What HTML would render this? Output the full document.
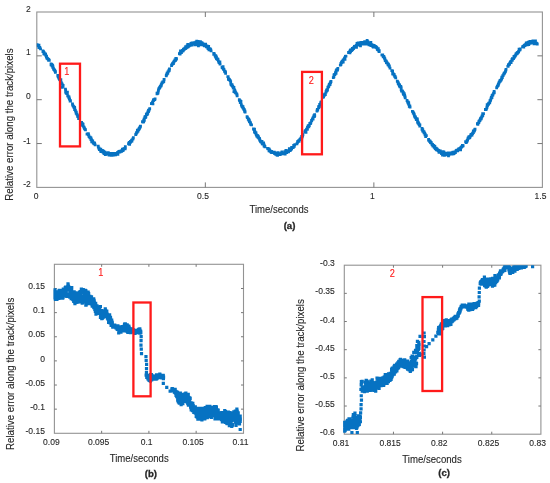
<!DOCTYPE html>
<html><head><meta charset="utf-8"><title>Figure</title>
<style>html,body{margin:0;padding:0;background:#fff;overflow:hidden;} svg{display:block;font-family:"Liberation Sans", Arial, sans-serif;}</style>
</head><body>
<svg width="550" height="483" viewBox="0 0 550 483">
<rect width="550" height="483" fill="#fff"/>
<defs><clipPath id="ca"><rect x="36.8" y="12.0" width="505.6" height="175.4"/></clipPath><clipPath id="cb"><rect x="53.4" y="264.3" width="190.1" height="169"/></clipPath><clipPath id="cc"><rect x="343.1" y="265.2" width="197.8" height="169"/></clipPath></defs>
<rect x="36.8" y="12" width="505.6" height="175.4" fill="none" stroke="#939393" stroke-width="1.1"/>
<line x1="205.33" y1="187.4" x2="205.33" y2="182.4" stroke="#777" stroke-width="1"/>
<line x1="205.33" y1="12" x2="205.33" y2="17" stroke="#777" stroke-width="1"/>
<line x1="373.87" y1="187.4" x2="373.87" y2="182.4" stroke="#777" stroke-width="1"/>
<line x1="373.87" y1="12" x2="373.87" y2="17" stroke="#777" stroke-width="1"/>
<line x1="36.8" y1="55.85" x2="41.8" y2="55.85" stroke="#777" stroke-width="1"/>
<line x1="542.4" y1="55.85" x2="537.4" y2="55.85" stroke="#777" stroke-width="1"/>
<line x1="36.8" y1="99.7" x2="41.8" y2="99.7" stroke="#777" stroke-width="1"/>
<line x1="542.4" y1="99.7" x2="537.4" y2="99.7" stroke="#777" stroke-width="1"/>
<line x1="36.8" y1="143.55" x2="41.8" y2="143.55" stroke="#777" stroke-width="1"/>
<line x1="542.4" y1="143.55" x2="537.4" y2="143.55" stroke="#777" stroke-width="1"/>
<path d="M35.42 43.29h2.8v2.8h-2.8zM35.46 43.82h2.8v2.8h-2.8zM35.8 43.37h2.8v2.8h-2.8zM36.34 43.88h2.8v2.8h-2.8zM36.8 44.39h2.8v2.8h-2.8zM37.1 44.38h2.8v2.8h-2.8zM37.6 43.81h2.8v2.8h-2.8zM37.5 46.3h2.8v2.8h-2.8zM37.85 46.13h2.8v2.8h-2.8zM38.45 46.49h2.8v2.8h-2.8zM38.44 46.09h2.8v2.8h-2.8zM39.14 47.48h2.8v2.8h-2.8zM41.52 49.44h2.8v2.8h-2.8zM41.52 50.09h2.8v2.8h-2.8zM42.14 50.25h2.8v2.8h-2.8zM42.62 51h2.8v2.8h-2.8zM42.45 52.19h2.8v2.8h-2.8zM42.71 52.62h2.8v2.8h-2.8zM43.55 52.24h2.8v2.8h-2.8zM43.77 52.36h2.8v2.8h-2.8zM44.18 53.05h2.8v2.8h-2.8zM44.29 53.73h2.8v2.8h-2.8zM44.73 54.52h2.8v2.8h-2.8zM45.16 54.94h2.8v2.8h-2.8zM45.01 55.49h2.8v2.8h-2.8zM45.43 56.64h2.8v2.8h-2.8zM45.74 56.75h2.8v2.8h-2.8zM46.22 57.25h2.8v2.8h-2.8zM46.65 57.79h2.8v2.8h-2.8zM47.14 57.98h2.8v2.8h-2.8zM47.2 58.96h2.8v2.8h-2.8zM47.88 58.86h2.8v2.8h-2.8zM49.64 62.46h2.8v2.8h-2.8zM49.62 63.36h2.8v2.8h-2.8zM50.52 63.06h2.8v2.8h-2.8zM50.59 64.34h2.8v2.8h-2.8zM51.15 64.03h2.8v2.8h-2.8zM51.46 64.65h2.8v2.8h-2.8zM51.33 65.93h2.8v2.8h-2.8zM51.64 65.82h2.8v2.8h-2.8zM52.13 67.26h2.8v2.8h-2.8zM52.26 67.65h2.8v2.8h-2.8zM52.61 68.22h2.8v2.8h-2.8zM53.29 68.87h2.8v2.8h-2.8zM53.47 69.5h2.8v2.8h-2.8zM54.09 70.17h2.8v2.8h-2.8zM53.96 71.04h2.8v2.8h-2.8zM56.39 74.02h2.8v2.8h-2.8zM56.54 74.72h2.8v2.8h-2.8zM56.88 75.37h2.8v2.8h-2.8zM57.4 76.55h2.8v2.8h-2.8zM57.37 76.62h2.8v2.8h-2.8zM57.86 76.91h2.8v2.8h-2.8zM58.07 78h2.8v2.8h-2.8zM58.71 78.55h2.8v2.8h-2.8zM59.02 80h2.8v2.8h-2.8zM59.07 79.62h2.8v2.8h-2.8zM59.47 78.25h2.8v2.8h-2.8zM60.01 81.17h2.8v2.8h-2.8zM60.06 82.25h2.8v2.8h-2.8zM60.46 82.41h2.8v2.8h-2.8zM60.8 82.79h2.8v2.8h-2.8zM60.89 85.86h2.8v2.8h-2.8zM61.72 84.05h2.8v2.8h-2.8zM61.61 84.95h2.8v2.8h-2.8zM64.06 87.78h2.8v2.8h-2.8zM64.24 88.9h2.8v2.8h-2.8zM64.22 90.34h2.8v2.8h-2.8zM64.56 91.35h2.8v2.8h-2.8zM65.39 92.29h2.8v2.8h-2.8zM65.21 91.7h2.8v2.8h-2.8zM66.02 90.8h2.8v2.8h-2.8zM65.92 92.3h2.8v2.8h-2.8zM66.3 94.43h2.8v2.8h-2.8zM66.7 94.69h2.8v2.8h-2.8zM67.33 96.05h2.8v2.8h-2.8zM67.65 95.62h2.8v2.8h-2.8zM67.99 97.14h2.8v2.8h-2.8zM67.78 96.65h2.8v2.8h-2.8zM68.21 97.99h2.8v2.8h-2.8zM68.71 99.65h2.8v2.8h-2.8zM69.09 99.37h2.8v2.8h-2.8zM71.08 102.46h2.8v2.8h-2.8zM71.24 103.71h2.8v2.8h-2.8zM71.86 104.8h2.8v2.8h-2.8zM72 104.73h2.8v2.8h-2.8zM72.48 105.55h2.8v2.8h-2.8zM72.71 106.29h2.8v2.8h-2.8zM73.25 106.08h2.8v2.8h-2.8zM73.21 108.22h2.8v2.8h-2.8zM73.46 107.48h2.8v2.8h-2.8zM73.98 108.89h2.8v2.8h-2.8zM74.44 110.4h2.8v2.8h-2.8zM74.91 110.87h2.8v2.8h-2.8zM74.79 111.85h2.8v2.8h-2.8zM75.61 112.73h2.8v2.8h-2.8zM75.65 112.92h2.8v2.8h-2.8zM76.19 114.65h2.8v2.8h-2.8zM76.22 114.28h2.8v2.8h-2.8zM76.54 115.11h2.8v2.8h-2.8zM76.94 115.25h2.8v2.8h-2.8zM77.19 117.22h2.8v2.8h-2.8zM77.48 116.81h2.8v2.8h-2.8zM80.19 120.91h2.8v2.8h-2.8zM80.49 121.98h2.8v2.8h-2.8zM80.88 123.05h2.8v2.8h-2.8zM80.94 122.26h2.8v2.8h-2.8zM81.14 123.82h2.8v2.8h-2.8zM81.46 124.15h2.8v2.8h-2.8zM81.68 122.68h2.8v2.8h-2.8zM82.23 125.38h2.8v2.8h-2.8zM82.62 125.68h2.8v2.8h-2.8zM82.94 126.83h2.8v2.8h-2.8zM83.02 126.83h2.8v2.8h-2.8zM83.47 127.7h2.8v2.8h-2.8zM84.07 128.34h2.8v2.8h-2.8zM85.6 132.82h2.8v2.8h-2.8zM86.51 132.57h2.8v2.8h-2.8zM86.64 132.25h2.8v2.8h-2.8zM86.97 133.16h2.8v2.8h-2.8zM87.09 132.62h2.8v2.8h-2.8zM87.38 133.93h2.8v2.8h-2.8zM87.65 135.14h2.8v2.8h-2.8zM88.49 136.37h2.8v2.8h-2.8zM88.76 135.85h2.8v2.8h-2.8zM88.59 136.23h2.8v2.8h-2.8zM89.47 136.53h2.8v2.8h-2.8zM89.64 136.83h2.8v2.8h-2.8zM89.55 138.12h2.8v2.8h-2.8zM90.08 138.36h2.8v2.8h-2.8zM90.32 140.4h2.8v2.8h-2.8zM90.59 139.16h2.8v2.8h-2.8zM91.34 139.52h2.8v2.8h-2.8zM91.69 140.91h2.8v2.8h-2.8zM91.71 141.02h2.8v2.8h-2.8zM91.91 141.59h2.8v2.8h-2.8zM92.73 142.49h2.8v2.8h-2.8zM92.88 141.59h2.8v2.8h-2.8zM93.02 142.38h2.8v2.8h-2.8zM93.27 141.84h2.8v2.8h-2.8zM93.77 143.51h2.8v2.8h-2.8zM96.93 145.66h2.8v2.8h-2.8zM96.84 144.78h2.8v2.8h-2.8zM97.72 146.66h2.8v2.8h-2.8zM97.48 146.96h2.8v2.8h-2.8zM97.95 148.15h2.8v2.8h-2.8zM98.67 147.79h2.8v2.8h-2.8zM98.91 148.35h2.8v2.8h-2.8zM99.24 149h2.8v2.8h-2.8zM99.4 147.73h2.8v2.8h-2.8zM99.48 150.32h2.8v2.8h-2.8zM100.14 150h2.8v2.8h-2.8zM100.19 149.02h2.8v2.8h-2.8zM101.02 149.01h2.8v2.8h-2.8zM100.94 150.22h2.8v2.8h-2.8zM101.7 151.04h2.8v2.8h-2.8zM101.6 150.38h2.8v2.8h-2.8zM102.36 150.96h2.8v2.8h-2.8zM102.13 149.7h2.8v2.8h-2.8zM102.58 152.1h2.8v2.8h-2.8zM102.82 150.43h2.8v2.8h-2.8zM103.61 150.79h2.8v2.8h-2.8zM103.65 152.54h2.8v2.8h-2.8zM103.97 153.25h2.8v2.8h-2.8zM104.31 151.53h2.8v2.8h-2.8zM104.41 152.58h2.8v2.8h-2.8zM105.25 152.12h2.8v2.8h-2.8zM105.51 152.52h2.8v2.8h-2.8zM105.77 152.3h2.8v2.8h-2.8zM105.98 152.7h2.8v2.8h-2.8zM106.07 152.75h2.8v2.8h-2.8zM106.91 151.21h2.8v2.8h-2.8zM106.96 152.8h2.8v2.8h-2.8zM107.56 153.1h2.8v2.8h-2.8zM107.62 153.73h2.8v2.8h-2.8zM108.14 152.32h2.8v2.8h-2.8zM108.43 152.4h2.8v2.8h-2.8zM108.41 153.32h2.8v2.8h-2.8zM108.89 153.41h2.8v2.8h-2.8zM109.35 151.98h2.8v2.8h-2.8zM109.57 153.54h2.8v2.8h-2.8zM109.69 154.05h2.8v2.8h-2.8zM110.17 151.93h2.8v2.8h-2.8zM110.68 153.99h2.8v2.8h-2.8zM111.18 152.57h2.8v2.8h-2.8zM111.23 151.98h2.8v2.8h-2.8zM111.91 152.25h2.8v2.8h-2.8zM112.12 153.19h2.8v2.8h-2.8zM112.55 153.79h2.8v2.8h-2.8zM112.6 152.58h2.8v2.8h-2.8zM113.23 152.83h2.8v2.8h-2.8zM113.4 152.06h2.8v2.8h-2.8zM113.31 152.82h2.8v2.8h-2.8zM113.66 152.25h2.8v2.8h-2.8zM114.23 153.45h2.8v2.8h-2.8zM114.48 152h2.8v2.8h-2.8zM114.63 152.36h2.8v2.8h-2.8zM115.13 152.58h2.8v2.8h-2.8zM115.62 152.2h2.8v2.8h-2.8zM116.01 151.29h2.8v2.8h-2.8zM116 152.15h2.8v2.8h-2.8zM116.5 152.91h2.8v2.8h-2.8zM116.85 150.92h2.8v2.8h-2.8zM117.45 150.06h2.8v2.8h-2.8zM117.39 150.5h2.8v2.8h-2.8zM118.13 150.81h2.8v2.8h-2.8zM118.22 149.92h2.8v2.8h-2.8zM118.62 149.75h2.8v2.8h-2.8zM118.84 150.35h2.8v2.8h-2.8zM119.19 150.05h2.8v2.8h-2.8zM119.35 149.65h2.8v2.8h-2.8zM119.89 149.86h2.8v2.8h-2.8zM120.5 148.93h2.8v2.8h-2.8zM120.29 150.05h2.8v2.8h-2.8zM121.03 147.68h2.8v2.8h-2.8zM121.09 149.22h2.8v2.8h-2.8zM121.55 149.16h2.8v2.8h-2.8zM122 148.56h2.8v2.8h-2.8zM122.13 147.48h2.8v2.8h-2.8zM122.7 147.17h2.8v2.8h-2.8zM122.77 147.29h2.8v2.8h-2.8zM123.45 147.12h2.8v2.8h-2.8zM123.76 147.54h2.8v2.8h-2.8zM123.97 146.56h2.8v2.8h-2.8zM123.91 145.16h2.8v2.8h-2.8zM127.12 142.27h2.8v2.8h-2.8zM127.66 142.61h2.8v2.8h-2.8zM127.8 141.1h2.8v2.8h-2.8zM128.25 142.93h2.8v2.8h-2.8zM128.3 141.32h2.8v2.8h-2.8zM128.85 141.24h2.8v2.8h-2.8zM129.06 139.96h2.8v2.8h-2.8zM129.44 140.3h2.8v2.8h-2.8zM129.58 140.04h2.8v2.8h-2.8zM130.18 138.9h2.8v2.8h-2.8zM130.39 138.8h2.8v2.8h-2.8zM130.55 139.7h2.8v2.8h-2.8zM131.33 137.67h2.8v2.8h-2.8zM131.59 137.38h2.8v2.8h-2.8zM131.64 137.52h2.8v2.8h-2.8zM131.95 136.29h2.8v2.8h-2.8zM134.27 133.29h2.8v2.8h-2.8zM134.58 132.64h2.8v2.8h-2.8zM135.08 131.62h2.8v2.8h-2.8zM135.11 131.13h2.8v2.8h-2.8zM135.97 128.86h2.8v2.8h-2.8zM135.86 130.64h2.8v2.8h-2.8zM136.43 129.77h2.8v2.8h-2.8zM136.68 129.58h2.8v2.8h-2.8zM137.21 128.31h2.8v2.8h-2.8zM137.44 128.22h2.8v2.8h-2.8zM137.62 127.32h2.8v2.8h-2.8zM138.09 127.07h2.8v2.8h-2.8zM138.18 126.55h2.8v2.8h-2.8zM138.5 126.17h2.8v2.8h-2.8zM138.84 125.13h2.8v2.8h-2.8zM139.11 124.7h2.8v2.8h-2.8zM141.08 120.23h2.8v2.8h-2.8zM141.53 120.71h2.8v2.8h-2.8zM142.26 120.38h2.8v2.8h-2.8zM142.27 118.76h2.8v2.8h-2.8zM142.95 119.07h2.8v2.8h-2.8zM142.8 117.54h2.8v2.8h-2.8zM143.5 116.09h2.8v2.8h-2.8zM143.44 115.57h2.8v2.8h-2.8zM144.22 115h2.8v2.8h-2.8zM144.3 115.89h2.8v2.8h-2.8zM144.5 115h2.8v2.8h-2.8zM144.95 112.71h2.8v2.8h-2.8zM145.57 113.14h2.8v2.8h-2.8zM145.91 112.75h2.8v2.8h-2.8zM145.68 112.27h2.8v2.8h-2.8zM146.35 111.83h2.8v2.8h-2.8zM146.41 110.45h2.8v2.8h-2.8zM147.15 110.12h2.8v2.8h-2.8zM147.08 108.99h2.8v2.8h-2.8zM147.53 108.82h2.8v2.8h-2.8zM147.78 108.59h2.8v2.8h-2.8zM148.3 107.2h2.8v2.8h-2.8zM150.01 102.2h2.8v2.8h-2.8zM150.45 102.12h2.8v2.8h-2.8zM150.95 101.6h2.8v2.8h-2.8zM151.19 100.61h2.8v2.8h-2.8zM151.53 102.39h2.8v2.8h-2.8zM152.08 99.23h2.8v2.8h-2.8zM151.96 98.61h2.8v2.8h-2.8zM152.55 98.29h2.8v2.8h-2.8zM152.6 98.35h2.8v2.8h-2.8zM153.34 98.11h2.8v2.8h-2.8zM153.69 97.49h2.8v2.8h-2.8zM155.59 92.54h2.8v2.8h-2.8zM155.62 91.72h2.8v2.8h-2.8zM156.37 91.94h2.8v2.8h-2.8zM156.62 91.33h2.8v2.8h-2.8zM156.91 89.74h2.8v2.8h-2.8zM157.06 88.76h2.8v2.8h-2.8zM157.35 87.56h2.8v2.8h-2.8zM157.82 87.01h2.8v2.8h-2.8zM158.08 86.49h2.8v2.8h-2.8zM158.43 86.04h2.8v2.8h-2.8zM158.75 85.5h2.8v2.8h-2.8zM159.01 84.78h2.8v2.8h-2.8zM159.76 84.47h2.8v2.8h-2.8zM159.82 83.62h2.8v2.8h-2.8zM160.16 82.69h2.8v2.8h-2.8zM160.61 81.39h2.8v2.8h-2.8zM160.59 81.45h2.8v2.8h-2.8zM160.88 81.55h2.8v2.8h-2.8zM161.34 80.6h2.8v2.8h-2.8zM161.68 80.61h2.8v2.8h-2.8zM162.36 80.29h2.8v2.8h-2.8zM162.6 78.33h2.8v2.8h-2.8zM162.73 78h2.8v2.8h-2.8zM164.83 74.57h2.8v2.8h-2.8zM164.97 73.68h2.8v2.8h-2.8zM165.44 72.93h2.8v2.8h-2.8zM165.67 71.87h2.8v2.8h-2.8zM165.88 71.9h2.8v2.8h-2.8zM166.38 72.03h2.8v2.8h-2.8zM166.53 70.53h2.8v2.8h-2.8zM167.35 69.62h2.8v2.8h-2.8zM167.59 68.87h2.8v2.8h-2.8zM167.79 69.23h2.8v2.8h-2.8zM168.06 67.6h2.8v2.8h-2.8zM168.11 67.49h2.8v2.8h-2.8zM170.13 64.08h2.8v2.8h-2.8zM170.65 62.91h2.8v2.8h-2.8zM171.12 62.45h2.8v2.8h-2.8zM171.37 62.09h2.8v2.8h-2.8zM171.77 61.44h2.8v2.8h-2.8zM172.04 62.25h2.8v2.8h-2.8zM172.31 60.81h2.8v2.8h-2.8zM172.49 60.51h2.8v2.8h-2.8zM172.87 59.69h2.8v2.8h-2.8zM173.6 59.12h2.8v2.8h-2.8zM173.53 58.57h2.8v2.8h-2.8zM174.11 59.04h2.8v2.8h-2.8zM174.61 58.06h2.8v2.8h-2.8zM174.41 56.97h2.8v2.8h-2.8zM174.79 58.06h2.8v2.8h-2.8zM175.12 57.24h2.8v2.8h-2.8zM178.02 52.24h2.8v2.8h-2.8zM178.58 51.64h2.8v2.8h-2.8zM178.64 52.76h2.8v2.8h-2.8zM179.08 49.61h2.8v2.8h-2.8zM179.16 51.35h2.8v2.8h-2.8zM179.86 51.03h2.8v2.8h-2.8zM179.66 51.22h2.8v2.8h-2.8zM180.06 51.1h2.8v2.8h-2.8zM180.69 49.43h2.8v2.8h-2.8zM181.14 49.6h2.8v2.8h-2.8zM181.08 49.11h2.8v2.8h-2.8zM181.82 49.37h2.8v2.8h-2.8zM182.05 48.2h2.8v2.8h-2.8zM181.97 47.75h2.8v2.8h-2.8zM182.83 48.04h2.8v2.8h-2.8zM182.99 47.46h2.8v2.8h-2.8zM183.42 46.9h2.8v2.8h-2.8zM183.48 46.71h2.8v2.8h-2.8zM184.06 47.11h2.8v2.8h-2.8zM184.1 46.4h2.8v2.8h-2.8zM184.28 45.2h2.8v2.8h-2.8zM184.93 46.35h2.8v2.8h-2.8zM185.26 45.94h2.8v2.8h-2.8zM185.7 44.56h2.8v2.8h-2.8zM185.64 45.36h2.8v2.8h-2.8zM186.48 45.6h2.8v2.8h-2.8zM186.34 43.04h2.8v2.8h-2.8zM187.13 44.84h2.8v2.8h-2.8zM187.49 43.99h2.8v2.8h-2.8zM187.79 44.47h2.8v2.8h-2.8zM187.81 44.17h2.8v2.8h-2.8zM188.22 43.19h2.8v2.8h-2.8zM188.6 43.87h2.8v2.8h-2.8zM188.91 43.95h2.8v2.8h-2.8zM189.19 43.81h2.8v2.8h-2.8zM189.49 42.06h2.8v2.8h-2.8zM189.68 43.11h2.8v2.8h-2.8zM190.03 41.94h2.8v2.8h-2.8zM190.57 41.62h2.8v2.8h-2.8zM190.74 43.66h2.8v2.8h-2.8zM191.02 42.12h2.8v2.8h-2.8zM191.31 42.69h2.8v2.8h-2.8zM191.7 42.11h2.8v2.8h-2.8zM192.02 41.98h2.8v2.8h-2.8zM192.19 42.35h2.8v2.8h-2.8zM192.69 41.34h2.8v2.8h-2.8zM193.28 42.05h2.8v2.8h-2.8zM193.52 41.85h2.8v2.8h-2.8zM193.9 43.39h2.8v2.8h-2.8zM193.97 42.57h2.8v2.8h-2.8zM194.42 40.78h2.8v2.8h-2.8zM194.73 41.05h2.8v2.8h-2.8zM195.33 39.81h2.8v2.8h-2.8zM195.55 43.36h2.8v2.8h-2.8zM195.68 41.82h2.8v2.8h-2.8zM195.96 42.56h2.8v2.8h-2.8zM196.71 39.96h2.8v2.8h-2.8zM196.59 40.68h2.8v2.8h-2.8zM197.05 44.46h2.8v2.8h-2.8zM197.59 42.05h2.8v2.8h-2.8zM197.67 43.02h2.8v2.8h-2.8zM198.17 43.44h2.8v2.8h-2.8zM198.19 42.73h2.8v2.8h-2.8zM199.05 40.34h2.8v2.8h-2.8zM198.88 43.23h2.8v2.8h-2.8zM199.5 43.45h2.8v2.8h-2.8zM199.53 42.84h2.8v2.8h-2.8zM200.37 43.03h2.8v2.8h-2.8zM200.57 41.27h2.8v2.8h-2.8zM200.84 42.71h2.8v2.8h-2.8zM201.05 42.19h2.8v2.8h-2.8zM201.28 43.08h2.8v2.8h-2.8zM201.47 42.35h2.8v2.8h-2.8zM201.8 43.53h2.8v2.8h-2.8zM202.65 43.84h2.8v2.8h-2.8zM202.54 42.98h2.8v2.8h-2.8zM203.1 44.46h2.8v2.8h-2.8zM203.54 44.15h2.8v2.8h-2.8zM203.72 43.73h2.8v2.8h-2.8zM204.27 43.58h2.8v2.8h-2.8zM204.24 42.81h2.8v2.8h-2.8zM204.79 44.79h2.8v2.8h-2.8zM204.97 45.22h2.8v2.8h-2.8zM205.59 44.39h2.8v2.8h-2.8zM205.48 45.58h2.8v2.8h-2.8zM206.13 45.67h2.8v2.8h-2.8zM206.32 45.61h2.8v2.8h-2.8zM206.59 47.15h2.8v2.8h-2.8zM207.26 44.98h2.8v2.8h-2.8zM207.57 47.52h2.8v2.8h-2.8zM207.56 48.54h2.8v2.8h-2.8zM208.01 47.78h2.8v2.8h-2.8zM208.15 47.34h2.8v2.8h-2.8zM208.85 47.54h2.8v2.8h-2.8zM209.18 48.63h2.8v2.8h-2.8zM209.31 48.21h2.8v2.8h-2.8zM209.73 49.47h2.8v2.8h-2.8zM212.36 52.03h2.8v2.8h-2.8zM212.33 53.07h2.8v2.8h-2.8zM212.67 52.89h2.8v2.8h-2.8zM212.97 52.4h2.8v2.8h-2.8zM213.69 54.43h2.8v2.8h-2.8zM214.18 55.59h2.8v2.8h-2.8zM214.38 54.32h2.8v2.8h-2.8zM214.7 54.88h2.8v2.8h-2.8zM215.08 56.05h2.8v2.8h-2.8zM215.06 57.14h2.8v2.8h-2.8zM215.67 57.76h2.8v2.8h-2.8zM216.1 57.56h2.8v2.8h-2.8zM216.12 58.01h2.8v2.8h-2.8zM216.46 57.67h2.8v2.8h-2.8zM216.63 58.17h2.8v2.8h-2.8zM216.95 59.74h2.8v2.8h-2.8zM217.81 60.67h2.8v2.8h-2.8zM217.6 61.16h2.8v2.8h-2.8zM218.51 60.46h2.8v2.8h-2.8zM218.5 62.05h2.8v2.8h-2.8zM218.67 62.75h2.8v2.8h-2.8zM220.63 66.01h2.8v2.8h-2.8zM220.97 66.36h2.8v2.8h-2.8zM221.67 65.31h2.8v2.8h-2.8zM221.97 67.77h2.8v2.8h-2.8zM222.34 67.66h2.8v2.8h-2.8zM222.61 68.32h2.8v2.8h-2.8zM223.09 69.79h2.8v2.8h-2.8zM223.4 69.85h2.8v2.8h-2.8zM223.57 70.37h2.8v2.8h-2.8zM224.1 70.57h2.8v2.8h-2.8zM224.23 71.86h2.8v2.8h-2.8zM226.42 75.21h2.8v2.8h-2.8zM226.74 75.31h2.8v2.8h-2.8zM226.97 77.06h2.8v2.8h-2.8zM226.99 78.04h2.8v2.8h-2.8zM227.53 77.84h2.8v2.8h-2.8zM227.97 77.96h2.8v2.8h-2.8zM227.83 78.2h2.8v2.8h-2.8zM228.65 79.09h2.8v2.8h-2.8zM228.71 79.08h2.8v2.8h-2.8zM229.27 80.26h2.8v2.8h-2.8zM229.33 81.72h2.8v2.8h-2.8zM229.56 82.91h2.8v2.8h-2.8zM229.97 83.78h2.8v2.8h-2.8zM230.66 83.16h2.8v2.8h-2.8zM230.94 84.57h2.8v2.8h-2.8zM231.26 84.9h2.8v2.8h-2.8zM231.41 84.88h2.8v2.8h-2.8zM231.92 86.22h2.8v2.8h-2.8zM231.81 86.6h2.8v2.8h-2.8zM232.54 85.99h2.8v2.8h-2.8zM232.49 90.21h2.8v2.8h-2.8zM233.23 88.52h2.8v2.8h-2.8zM233.63 89.59h2.8v2.8h-2.8zM233.72 90.9h2.8v2.8h-2.8zM233.87 90.54h2.8v2.8h-2.8zM234.31 91.32h2.8v2.8h-2.8zM234.51 91.66h2.8v2.8h-2.8zM235.35 92.62h2.8v2.8h-2.8zM235.55 93.33h2.8v2.8h-2.8zM235.77 94.37h2.8v2.8h-2.8zM237.91 98.37h2.8v2.8h-2.8zM238.06 98.93h2.8v2.8h-2.8zM238.62 99.52h2.8v2.8h-2.8zM238.87 101.22h2.8v2.8h-2.8zM238.94 99.57h2.8v2.8h-2.8zM239.56 100.09h2.8v2.8h-2.8zM239.41 101.03h2.8v2.8h-2.8zM239.94 103.35h2.8v2.8h-2.8zM240.37 104.71h2.8v2.8h-2.8zM240.93 105.33h2.8v2.8h-2.8zM240.79 104.8h2.8v2.8h-2.8zM241.62 105.27h2.8v2.8h-2.8zM241.56 106.47h2.8v2.8h-2.8zM242.22 107.28h2.8v2.8h-2.8zM242.44 107.9h2.8v2.8h-2.8zM242.93 108.35h2.8v2.8h-2.8zM243.23 109.47h2.8v2.8h-2.8zM243.18 109.98h2.8v2.8h-2.8zM243.52 109.78h2.8v2.8h-2.8zM243.73 110.74h2.8v2.8h-2.8zM245.65 115.34h2.8v2.8h-2.8zM246.09 116.3h2.8v2.8h-2.8zM246.86 117.89h2.8v2.8h-2.8zM247.16 117.62h2.8v2.8h-2.8zM247.52 118.38h2.8v2.8h-2.8zM247.67 119.13h2.8v2.8h-2.8zM247.91 118.85h2.8v2.8h-2.8zM248.04 120.13h2.8v2.8h-2.8zM248.61 120.68h2.8v2.8h-2.8zM249.13 121.48h2.8v2.8h-2.8zM249.1 121.89h2.8v2.8h-2.8zM249.47 123.16h2.8v2.8h-2.8zM250.14 123.55h2.8v2.8h-2.8zM252.12 127.57h2.8v2.8h-2.8zM252.08 127.44h2.8v2.8h-2.8zM252.36 127.9h2.8v2.8h-2.8zM253.13 127.73h2.8v2.8h-2.8zM253.07 130.71h2.8v2.8h-2.8zM253.41 130.18h2.8v2.8h-2.8zM253.57 130.5h2.8v2.8h-2.8zM253.89 131.38h2.8v2.8h-2.8zM254.54 131.31h2.8v2.8h-2.8zM254.68 132.58h2.8v2.8h-2.8zM254.96 133.46h2.8v2.8h-2.8zM255.33 133.88h2.8v2.8h-2.8zM255.59 134.89h2.8v2.8h-2.8zM255.99 134.08h2.8v2.8h-2.8zM256.62 134.71h2.8v2.8h-2.8zM256.57 135.93h2.8v2.8h-2.8zM257.1 135.51h2.8v2.8h-2.8zM257.39 136.67h2.8v2.8h-2.8zM258.04 137.03h2.8v2.8h-2.8zM258.14 137.62h2.8v2.8h-2.8zM258.34 138.22h2.8v2.8h-2.8zM258.61 139.12h2.8v2.8h-2.8zM259.2 140.15h2.8v2.8h-2.8zM259.48 140.34h2.8v2.8h-2.8zM259.93 140.16h2.8v2.8h-2.8zM260.26 141.05h2.8v2.8h-2.8zM260.61 140.04h2.8v2.8h-2.8zM260.79 142.53h2.8v2.8h-2.8zM261.14 142.35h2.8v2.8h-2.8zM261.28 142.24h2.8v2.8h-2.8zM261.54 142.74h2.8v2.8h-2.8zM262.25 141.43h2.8v2.8h-2.8zM262.64 144.59h2.8v2.8h-2.8zM262.74 143.57h2.8v2.8h-2.8zM262.86 143.88h2.8v2.8h-2.8zM263.48 144.91h2.8v2.8h-2.8zM263.53 145.47h2.8v2.8h-2.8zM266.17 146.94h2.8v2.8h-2.8zM266.67 147.53h2.8v2.8h-2.8zM266.79 147.3h2.8v2.8h-2.8zM266.79 147.48h2.8v2.8h-2.8zM267.6 147.48h2.8v2.8h-2.8zM267.61 149.42h2.8v2.8h-2.8zM268.16 148.42h2.8v2.8h-2.8zM268.48 148.97h2.8v2.8h-2.8zM268.53 149.75h2.8v2.8h-2.8zM268.99 149.91h2.8v2.8h-2.8zM269.66 150.59h2.8v2.8h-2.8zM269.92 150.03h2.8v2.8h-2.8zM270.21 151.09h2.8v2.8h-2.8zM270.13 149.93h2.8v2.8h-2.8zM270.6 150.61h2.8v2.8h-2.8zM271.3 150.97h2.8v2.8h-2.8zM271.61 151.17h2.8v2.8h-2.8zM271.91 150.89h2.8v2.8h-2.8zM272.15 150.68h2.8v2.8h-2.8zM272.46 151.06h2.8v2.8h-2.8zM272.91 150.73h2.8v2.8h-2.8zM273.19 152.23h2.8v2.8h-2.8zM273.61 151.44h2.8v2.8h-2.8zM273.46 152.24h2.8v2.8h-2.8zM274.22 151.56h2.8v2.8h-2.8zM274.03 152.61h2.8v2.8h-2.8zM274.66 151.44h2.8v2.8h-2.8zM275.14 151.63h2.8v2.8h-2.8zM275.26 153.43h2.8v2.8h-2.8zM275.46 152.13h2.8v2.8h-2.8zM276.18 151.99h2.8v2.8h-2.8zM276.16 153.93h2.8v2.8h-2.8zM276.39 151.4h2.8v2.8h-2.8zM276.73 151.32h2.8v2.8h-2.8zM277.16 152.86h2.8v2.8h-2.8zM277.83 152.33h2.8v2.8h-2.8zM277.97 152.15h2.8v2.8h-2.8zM277.98 153.14h2.8v2.8h-2.8zM278.63 153.17h2.8v2.8h-2.8zM278.87 152.23h2.8v2.8h-2.8zM279.33 152.59h2.8v2.8h-2.8zM279.88 151.53h2.8v2.8h-2.8zM280.17 152.34h2.8v2.8h-2.8zM280.15 152.05h2.8v2.8h-2.8zM280.55 150.61h2.8v2.8h-2.8zM281.03 152.55h2.8v2.8h-2.8zM281.2 152.18h2.8v2.8h-2.8zM281.84 151.81h2.8v2.8h-2.8zM282.07 152.01h2.8v2.8h-2.8zM282.35 152.35h2.8v2.8h-2.8zM282.32 152.1h2.8v2.8h-2.8zM282.99 151.76h2.8v2.8h-2.8zM283.51 150.25h2.8v2.8h-2.8zM283.75 152.58h2.8v2.8h-2.8zM283.93 151.57h2.8v2.8h-2.8zM284.3 150.34h2.8v2.8h-2.8zM284.49 148.89h2.8v2.8h-2.8zM284.88 149.24h2.8v2.8h-2.8zM285.51 150.23h2.8v2.8h-2.8zM285.31 151.17h2.8v2.8h-2.8zM285.67 149.99h2.8v2.8h-2.8zM286.27 149.45h2.8v2.8h-2.8zM286.42 149.69h2.8v2.8h-2.8zM286.66 149.42h2.8v2.8h-2.8zM287.1 150.35h2.8v2.8h-2.8zM287.25 149.8h2.8v2.8h-2.8zM287.92 147.28h2.8v2.8h-2.8zM288.44 147.68h2.8v2.8h-2.8zM288.39 147.72h2.8v2.8h-2.8zM288.84 149.27h2.8v2.8h-2.8zM289 147.79h2.8v2.8h-2.8zM289.49 148.13h2.8v2.8h-2.8zM289.64 147.26h2.8v2.8h-2.8zM290.2 147.35h2.8v2.8h-2.8zM290.23 146.11h2.8v2.8h-2.8zM290.73 146.28h2.8v2.8h-2.8zM290.87 146.29h2.8v2.8h-2.8zM291.38 146.26h2.8v2.8h-2.8zM291.67 146.02h2.8v2.8h-2.8zM291.92 145.94h2.8v2.8h-2.8zM292.27 143.89h2.8v2.8h-2.8zM292.93 144.93h2.8v2.8h-2.8zM293.4 143.24h2.8v2.8h-2.8zM295.55 142.35h2.8v2.8h-2.8zM296.15 140.88h2.8v2.8h-2.8zM296.28 140.19h2.8v2.8h-2.8zM296.53 139.91h2.8v2.8h-2.8zM297.12 139.56h2.8v2.8h-2.8zM297.51 139.27h2.8v2.8h-2.8zM297.64 139.92h2.8v2.8h-2.8zM298.29 138.38h2.8v2.8h-2.8zM298.51 138.28h2.8v2.8h-2.8zM298.74 138.25h2.8v2.8h-2.8zM298.81 137.71h2.8v2.8h-2.8zM299.53 136.67h2.8v2.8h-2.8zM299.67 136.74h2.8v2.8h-2.8zM300.28 136.71h2.8v2.8h-2.8zM300.26 134.94h2.8v2.8h-2.8zM300.63 135.81h2.8v2.8h-2.8zM301.15 134.67h2.8v2.8h-2.8zM301.29 133.91h2.8v2.8h-2.8zM301.52 133.16h2.8v2.8h-2.8zM303.41 130.47h2.8v2.8h-2.8zM303.84 129.17h2.8v2.8h-2.8zM304.61 130.84h2.8v2.8h-2.8zM304.52 129.49h2.8v2.8h-2.8zM305.11 127.78h2.8v2.8h-2.8zM305.6 127.91h2.8v2.8h-2.8zM305.91 128.07h2.8v2.8h-2.8zM306.05 127.41h2.8v2.8h-2.8zM306.05 125.76h2.8v2.8h-2.8zM306.83 124.29h2.8v2.8h-2.8zM307.14 124.44h2.8v2.8h-2.8zM307.39 125.56h2.8v2.8h-2.8zM307.92 124.1h2.8v2.8h-2.8zM307.88 124.06h2.8v2.8h-2.8zM308.39 121.98h2.8v2.8h-2.8zM308.75 122.21h2.8v2.8h-2.8zM309.14 121.86h2.8v2.8h-2.8zM309.11 121.83h2.8v2.8h-2.8zM309.43 121.42h2.8v2.8h-2.8zM310.13 119.53h2.8v2.8h-2.8zM310.09 119.26h2.8v2.8h-2.8zM310.38 119.03h2.8v2.8h-2.8zM310.94 117.79h2.8v2.8h-2.8zM311.4 117.14h2.8v2.8h-2.8zM311.69 117.58h2.8v2.8h-2.8zM311.72 116.14h2.8v2.8h-2.8zM312.35 115.29h2.8v2.8h-2.8zM312.55 114.14h2.8v2.8h-2.8zM313.22 114.98h2.8v2.8h-2.8zM313.2 113.27h2.8v2.8h-2.8zM313.33 114.32h2.8v2.8h-2.8zM315.54 109.81h2.8v2.8h-2.8zM315.82 108.71h2.8v2.8h-2.8zM315.97 108h2.8v2.8h-2.8zM316.31 108.72h2.8v2.8h-2.8zM317.18 106.46h2.8v2.8h-2.8zM317.18 105.44h2.8v2.8h-2.8zM317.58 104.91h2.8v2.8h-2.8zM317.96 105.57h2.8v2.8h-2.8zM318.3 103.73h2.8v2.8h-2.8zM318.26 102.98h2.8v2.8h-2.8zM319.07 102.73h2.8v2.8h-2.8zM319.41 101.53h2.8v2.8h-2.8zM319.33 101.3h2.8v2.8h-2.8zM319.76 100.5h2.8v2.8h-2.8zM321.43 95.87h2.8v2.8h-2.8zM321.68 95.69h2.8v2.8h-2.8zM322.21 95.35h2.8v2.8h-2.8zM322.74 94.13h2.8v2.8h-2.8zM322.83 93.42h2.8v2.8h-2.8zM323.21 93.15h2.8v2.8h-2.8zM323.6 92.79h2.8v2.8h-2.8zM323.57 92.42h2.8v2.8h-2.8zM323.98 93.32h2.8v2.8h-2.8zM324.68 90.65h2.8v2.8h-2.8zM324.6 90.17h2.8v2.8h-2.8zM325.37 89.56h2.8v2.8h-2.8zM325.18 88.8h2.8v2.8h-2.8zM325.73 88.37h2.8v2.8h-2.8zM326.11 88.73h2.8v2.8h-2.8zM326.48 86.05h2.8v2.8h-2.8zM326.58 85.85h2.8v2.8h-2.8zM327.31 84.74h2.8v2.8h-2.8zM327.35 85.12h2.8v2.8h-2.8zM327.7 83.63h2.8v2.8h-2.8zM327.89 82.76h2.8v2.8h-2.8zM328.65 83.14h2.8v2.8h-2.8zM328.91 81.52h2.8v2.8h-2.8zM329.13 81.26h2.8v2.8h-2.8zM329.35 80.42h2.8v2.8h-2.8zM329.6 80.1h2.8v2.8h-2.8zM331.9 76.15h2.8v2.8h-2.8zM332.5 75.34h2.8v2.8h-2.8zM332.57 73.62h2.8v2.8h-2.8zM333.2 73.01h2.8v2.8h-2.8zM333.43 73.23h2.8v2.8h-2.8zM333.5 72.93h2.8v2.8h-2.8zM334.05 71.16h2.8v2.8h-2.8zM334.66 71.92h2.8v2.8h-2.8zM334.69 69.47h2.8v2.8h-2.8zM334.85 69.74h2.8v2.8h-2.8zM335.13 68.78h2.8v2.8h-2.8zM335.43 68.28h2.8v2.8h-2.8zM336.15 68.77h2.8v2.8h-2.8zM336.14 68.23h2.8v2.8h-2.8zM336.44 66.9h2.8v2.8h-2.8zM338.92 63.82h2.8v2.8h-2.8zM339.51 63.2h2.8v2.8h-2.8zM339.5 62.08h2.8v2.8h-2.8zM340 61.47h2.8v2.8h-2.8zM340.23 60.64h2.8v2.8h-2.8zM340.55 61.02h2.8v2.8h-2.8zM340.83 59.9h2.8v2.8h-2.8zM341.43 59.42h2.8v2.8h-2.8zM341.81 60.64h2.8v2.8h-2.8zM341.71 58.74h2.8v2.8h-2.8zM342.52 58.02h2.8v2.8h-2.8zM342.83 57.87h2.8v2.8h-2.8zM343.12 56.73h2.8v2.8h-2.8zM343.26 56.39h2.8v2.8h-2.8zM343.61 57.9h2.8v2.8h-2.8zM344.02 54.91h2.8v2.8h-2.8zM344.56 54.79h2.8v2.8h-2.8zM347.19 51.3h2.8v2.8h-2.8zM347.14 50.98h2.8v2.8h-2.8zM347.65 51.06h2.8v2.8h-2.8zM347.81 50.98h2.8v2.8h-2.8zM348.5 51.35h2.8v2.8h-2.8zM348.41 49.81h2.8v2.8h-2.8zM349.13 50.1h2.8v2.8h-2.8zM349.02 48.69h2.8v2.8h-2.8zM349.3 48.46h2.8v2.8h-2.8zM349.94 49.13h2.8v2.8h-2.8zM350.34 48.26h2.8v2.8h-2.8zM350.37 49.01h2.8v2.8h-2.8zM350.92 47.02h2.8v2.8h-2.8zM351.05 48.17h2.8v2.8h-2.8zM351.32 47.64h2.8v2.8h-2.8zM352.08 47.27h2.8v2.8h-2.8zM352.33 46.33h2.8v2.8h-2.8zM352.7 45.92h2.8v2.8h-2.8zM353.05 45.03h2.8v2.8h-2.8zM353.29 45.89h2.8v2.8h-2.8zM353.68 45.74h2.8v2.8h-2.8zM353.7 44.83h2.8v2.8h-2.8zM354.46 44.71h2.8v2.8h-2.8zM354.39 45.21h2.8v2.8h-2.8zM355.12 45.84h2.8v2.8h-2.8zM355.06 43.94h2.8v2.8h-2.8zM355.53 42.49h2.8v2.8h-2.8zM355.65 42.12h2.8v2.8h-2.8zM356.25 43.24h2.8v2.8h-2.8zM356.24 43.23h2.8v2.8h-2.8zM356.72 41.41h2.8v2.8h-2.8zM357.23 43.4h2.8v2.8h-2.8zM357.38 43.73h2.8v2.8h-2.8zM357.71 42.29h2.8v2.8h-2.8zM357.87 41.97h2.8v2.8h-2.8zM358.32 42h2.8v2.8h-2.8zM359.09 44.53h2.8v2.8h-2.8zM358.89 41.25h2.8v2.8h-2.8zM359.62 41.25h2.8v2.8h-2.8zM359.84 42.28h2.8v2.8h-2.8zM360.18 41.09h2.8v2.8h-2.8zM360.61 41.73h2.8v2.8h-2.8zM360.94 41.06h2.8v2.8h-2.8zM361.37 40.97h2.8v2.8h-2.8zM361.63 42.82h2.8v2.8h-2.8zM362.06 42.18h2.8v2.8h-2.8zM361.87 42.4h2.8v2.8h-2.8zM362.49 41.81h2.8v2.8h-2.8zM362.98 42.8h2.8v2.8h-2.8zM363.22 41.53h2.8v2.8h-2.8zM363.25 40.25h2.8v2.8h-2.8zM363.92 42.03h2.8v2.8h-2.8zM363.79 40.79h2.8v2.8h-2.8zM364.25 42.45h2.8v2.8h-2.8zM364.67 40.66h2.8v2.8h-2.8zM364.98 42.7h2.8v2.8h-2.8zM365.27 41.24h2.8v2.8h-2.8zM365.72 39.06h2.8v2.8h-2.8zM366.33 41.52h2.8v2.8h-2.8zM366.5 40.33h2.8v2.8h-2.8zM366.77 41.97h2.8v2.8h-2.8zM367.22 42.14h2.8v2.8h-2.8zM367.6 43.41h2.8v2.8h-2.8zM367.99 41.86h2.8v2.8h-2.8zM367.83 42.19h2.8v2.8h-2.8zM368.12 42.52h2.8v2.8h-2.8zM368.83 42.53h2.8v2.8h-2.8zM369.21 42.59h2.8v2.8h-2.8zM369.48 41.06h2.8v2.8h-2.8zM369.46 44.18h2.8v2.8h-2.8zM370.04 43.33h2.8v2.8h-2.8zM370.38 43.19h2.8v2.8h-2.8zM370.88 44.09h2.8v2.8h-2.8zM371.29 45.04h2.8v2.8h-2.8zM371.46 44.47h2.8v2.8h-2.8zM371.4 43.63h2.8v2.8h-2.8zM371.86 45.76h2.8v2.8h-2.8zM372.23 44.98h2.8v2.8h-2.8zM372.81 44.72h2.8v2.8h-2.8zM372.78 44.1h2.8v2.8h-2.8zM373.5 45.41h2.8v2.8h-2.8zM373.94 45.03h2.8v2.8h-2.8zM374.27 45.28h2.8v2.8h-2.8zM374.03 45.77h2.8v2.8h-2.8zM374.58 45.99h2.8v2.8h-2.8zM375.07 45.71h2.8v2.8h-2.8zM375.35 46.53h2.8v2.8h-2.8zM375.54 46.38h2.8v2.8h-2.8zM375.89 47.64h2.8v2.8h-2.8zM376.2 48.3h2.8v2.8h-2.8zM376.91 47.35h2.8v2.8h-2.8zM376.69 48.5h2.8v2.8h-2.8zM377.38 49.76h2.8v2.8h-2.8zM377.81 50.17h2.8v2.8h-2.8zM377.85 49.31h2.8v2.8h-2.8zM380.5 53.38h2.8v2.8h-2.8zM380.71 53.64h2.8v2.8h-2.8zM381.34 53.56h2.8v2.8h-2.8zM381.84 55.2h2.8v2.8h-2.8zM381.79 55.56h2.8v2.8h-2.8zM382.45 54.93h2.8v2.8h-2.8zM382.49 55.55h2.8v2.8h-2.8zM382.99 56.81h2.8v2.8h-2.8zM383.09 56.61h2.8v2.8h-2.8zM383.52 57.52h2.8v2.8h-2.8zM383.68 58.7h2.8v2.8h-2.8zM383.91 59.13h2.8v2.8h-2.8zM384.61 59.59h2.8v2.8h-2.8zM385.05 60.16h2.8v2.8h-2.8zM385.01 61.27h2.8v2.8h-2.8zM385.39 61.49h2.8v2.8h-2.8zM385.61 61.15h2.8v2.8h-2.8zM386.41 62.26h2.8v2.8h-2.8zM386.59 62.62h2.8v2.8h-2.8zM386.58 63.57h2.8v2.8h-2.8zM387.06 63.09h2.8v2.8h-2.8zM387.6 64.35h2.8v2.8h-2.8zM387.89 64.93h2.8v2.8h-2.8zM387.98 64.84h2.8v2.8h-2.8zM388.6 66.76h2.8v2.8h-2.8zM390.41 69.32h2.8v2.8h-2.8zM390.96 69.44h2.8v2.8h-2.8zM391.26 72.33h2.8v2.8h-2.8zM391.21 69.65h2.8v2.8h-2.8zM391.58 72.6h2.8v2.8h-2.8zM391.95 72.52h2.8v2.8h-2.8zM392.72 73.06h2.8v2.8h-2.8zM392.77 73.62h2.8v2.8h-2.8zM393.33 74.84h2.8v2.8h-2.8zM393.66 74.9h2.8v2.8h-2.8zM393.75 75.57h2.8v2.8h-2.8zM394.33 76.4h2.8v2.8h-2.8zM395.87 79.69h2.8v2.8h-2.8zM396.31 80.5h2.8v2.8h-2.8zM397.04 81.38h2.8v2.8h-2.8zM396.83 82.19h2.8v2.8h-2.8zM397.51 83.19h2.8v2.8h-2.8zM397.85 83.04h2.8v2.8h-2.8zM397.92 84.37h2.8v2.8h-2.8zM398.28 84.06h2.8v2.8h-2.8zM398.55 85.54h2.8v2.8h-2.8zM399.19 85.05h2.8v2.8h-2.8zM399.65 85.39h2.8v2.8h-2.8zM399.82 86.75h2.8v2.8h-2.8zM399.76 88.24h2.8v2.8h-2.8zM400.1 89.61h2.8v2.8h-2.8zM400.67 89.59h2.8v2.8h-2.8zM401.11 89.8h2.8v2.8h-2.8zM401.51 90.7h2.8v2.8h-2.8zM401.91 91.1h2.8v2.8h-2.8zM401.81 92.01h2.8v2.8h-2.8zM402.07 93.05h2.8v2.8h-2.8zM402.83 92.28h2.8v2.8h-2.8zM403.17 93.83h2.8v2.8h-2.8zM403.37 94.62h2.8v2.8h-2.8zM403.69 95.47h2.8v2.8h-2.8zM403.83 96.41h2.8v2.8h-2.8zM405.63 99.1h2.8v2.8h-2.8zM406.21 100.62h2.8v2.8h-2.8zM406.29 100.52h2.8v2.8h-2.8zM406.87 100.78h2.8v2.8h-2.8zM406.87 101.84h2.8v2.8h-2.8zM407.34 101.42h2.8v2.8h-2.8zM407.48 103.2h2.8v2.8h-2.8zM407.87 104.87h2.8v2.8h-2.8zM408.42 104.49h2.8v2.8h-2.8zM408.42 105.28h2.8v2.8h-2.8zM408.68 105.76h2.8v2.8h-2.8zM411.03 109.96h2.8v2.8h-2.8zM410.98 109.95h2.8v2.8h-2.8zM411.83 110.78h2.8v2.8h-2.8zM411.81 111.77h2.8v2.8h-2.8zM412.41 111.92h2.8v2.8h-2.8zM412.75 112.94h2.8v2.8h-2.8zM412.97 113.99h2.8v2.8h-2.8zM412.95 113.82h2.8v2.8h-2.8zM413.37 115.37h2.8v2.8h-2.8zM413.9 115.22h2.8v2.8h-2.8zM414.16 116.28h2.8v2.8h-2.8zM414.7 117.4h2.8v2.8h-2.8zM415.05 117.89h2.8v2.8h-2.8zM414.95 118.1h2.8v2.8h-2.8zM415.68 117.37h2.8v2.8h-2.8zM416.03 118.21h2.8v2.8h-2.8zM416.14 120.26h2.8v2.8h-2.8zM416.41 121.47h2.8v2.8h-2.8zM416.72 120.76h2.8v2.8h-2.8zM417.1 121.83h2.8v2.8h-2.8zM417.58 122.55h2.8v2.8h-2.8zM417.74 123.2h2.8v2.8h-2.8zM418.49 123.51h2.8v2.8h-2.8zM418.37 124.74h2.8v2.8h-2.8zM420.69 127.04h2.8v2.8h-2.8zM420.59 127.98h2.8v2.8h-2.8zM421.37 128.3h2.8v2.8h-2.8zM421.27 129.81h2.8v2.8h-2.8zM421.6 129.78h2.8v2.8h-2.8zM422.32 130.15h2.8v2.8h-2.8zM422.68 130.57h2.8v2.8h-2.8zM422.58 131.54h2.8v2.8h-2.8zM423.31 131.79h2.8v2.8h-2.8zM423.64 132.74h2.8v2.8h-2.8zM423.62 133.47h2.8v2.8h-2.8zM423.86 133.06h2.8v2.8h-2.8zM424.26 135.27h2.8v2.8h-2.8zM424.96 134.29h2.8v2.8h-2.8zM427.24 138.07h2.8v2.8h-2.8zM427.16 138.61h2.8v2.8h-2.8zM427.67 139.05h2.8v2.8h-2.8zM428.32 140.18h2.8v2.8h-2.8zM428.35 140.27h2.8v2.8h-2.8zM428.81 139.73h2.8v2.8h-2.8zM429.09 141.27h2.8v2.8h-2.8zM429.54 141.37h2.8v2.8h-2.8zM429.48 141.07h2.8v2.8h-2.8zM429.88 141.18h2.8v2.8h-2.8zM430.49 142.75h2.8v2.8h-2.8zM430.8 143.57h2.8v2.8h-2.8zM431.15 143.11h2.8v2.8h-2.8zM431.55 144.63h2.8v2.8h-2.8zM431.57 144.54h2.8v2.8h-2.8zM432.11 143.92h2.8v2.8h-2.8zM432.62 144.53h2.8v2.8h-2.8zM432.8 146.03h2.8v2.8h-2.8zM432.96 145.87h2.8v2.8h-2.8zM433.48 145h2.8v2.8h-2.8zM433.81 147.24h2.8v2.8h-2.8zM433.92 147.13h2.8v2.8h-2.8zM434.64 146.65h2.8v2.8h-2.8zM434.58 147.76h2.8v2.8h-2.8zM435.06 147.16h2.8v2.8h-2.8zM435.08 148.42h2.8v2.8h-2.8zM435.5 148.51h2.8v2.8h-2.8zM435.85 147.87h2.8v2.8h-2.8zM436.59 149.19h2.8v2.8h-2.8zM436.59 148.87h2.8v2.8h-2.8zM437.29 149.62h2.8v2.8h-2.8zM437.4 149.02h2.8v2.8h-2.8zM437.6 151.01h2.8v2.8h-2.8zM438.04 150.23h2.8v2.8h-2.8zM438.44 150.02h2.8v2.8h-2.8zM438.44 150.38h2.8v2.8h-2.8zM438.94 149.56h2.8v2.8h-2.8zM439.2 150.63h2.8v2.8h-2.8zM439.91 151.57h2.8v2.8h-2.8zM440.09 152.23h2.8v2.8h-2.8zM440.54 151.82h2.8v2.8h-2.8zM440.43 151.14h2.8v2.8h-2.8zM441.24 152.19h2.8v2.8h-2.8zM441.11 153.66h2.8v2.8h-2.8zM441.93 152.1h2.8v2.8h-2.8zM441.81 150.28h2.8v2.8h-2.8zM442.47 152.59h2.8v2.8h-2.8zM442.73 150.87h2.8v2.8h-2.8zM443 153.86h2.8v2.8h-2.8zM443.29 152.74h2.8v2.8h-2.8zM443.75 151.88h2.8v2.8h-2.8zM443.87 152.57h2.8v2.8h-2.8zM444.08 152.99h2.8v2.8h-2.8zM444.56 153.31h2.8v2.8h-2.8zM444.87 152.62h2.8v2.8h-2.8zM445.51 153.52h2.8v2.8h-2.8zM445.67 152.71h2.8v2.8h-2.8zM445.9 152.68h2.8v2.8h-2.8zM446.4 153.36h2.8v2.8h-2.8zM446.45 151.59h2.8v2.8h-2.8zM447.07 154.35h2.8v2.8h-2.8zM447.5 153.36h2.8v2.8h-2.8zM447.31 151.82h2.8v2.8h-2.8zM448.08 152.79h2.8v2.8h-2.8zM448.32 151.44h2.8v2.8h-2.8zM448.5 151.8h2.8v2.8h-2.8zM448.8 151.64h2.8v2.8h-2.8zM449.44 152.77h2.8v2.8h-2.8zM449.65 151.72h2.8v2.8h-2.8zM449.83 152.82h2.8v2.8h-2.8zM450.31 152.77h2.8v2.8h-2.8zM450.75 151.29h2.8v2.8h-2.8zM450.66 152.58h2.8v2.8h-2.8zM451.44 151.91h2.8v2.8h-2.8zM451.62 150.86h2.8v2.8h-2.8zM451.93 152.4h2.8v2.8h-2.8zM452.25 152.31h2.8v2.8h-2.8zM452.28 151.23h2.8v2.8h-2.8zM453.03 151.63h2.8v2.8h-2.8zM453.08 150.88h2.8v2.8h-2.8zM453.29 150.53h2.8v2.8h-2.8zM454.02 151.31h2.8v2.8h-2.8zM453.94 150.68h2.8v2.8h-2.8zM454.54 149.78h2.8v2.8h-2.8zM454.66 149.55h2.8v2.8h-2.8zM455.16 149.05h2.8v2.8h-2.8zM455.57 148.79h2.8v2.8h-2.8zM455.87 148.75h2.8v2.8h-2.8zM456.45 148.75h2.8v2.8h-2.8zM456.22 149.38h2.8v2.8h-2.8zM456.78 148.44h2.8v2.8h-2.8zM456.95 148.14h2.8v2.8h-2.8zM457.29 147.4h2.8v2.8h-2.8zM457.92 147.13h2.8v2.8h-2.8zM458.17 147.43h2.8v2.8h-2.8zM458.71 148.17h2.8v2.8h-2.8zM458.92 146.75h2.8v2.8h-2.8zM459.2 148.41h2.8v2.8h-2.8zM459.34 146.45h2.8v2.8h-2.8zM459.89 145.82h2.8v2.8h-2.8zM459.83 145.87h2.8v2.8h-2.8zM460.65 145.12h2.8v2.8h-2.8zM461 144.08h2.8v2.8h-2.8zM460.99 144.43h2.8v2.8h-2.8zM461.72 144.33h2.8v2.8h-2.8zM461.69 144.35h2.8v2.8h-2.8zM464.22 140.36h2.8v2.8h-2.8zM464.89 140.32h2.8v2.8h-2.8zM464.86 141.08h2.8v2.8h-2.8zM465.16 140.13h2.8v2.8h-2.8zM465.74 138.88h2.8v2.8h-2.8zM465.8 139.8h2.8v2.8h-2.8zM466.2 138.54h2.8v2.8h-2.8zM466.61 136.84h2.8v2.8h-2.8zM467.02 136.94h2.8v2.8h-2.8zM467.3 135.45h2.8v2.8h-2.8zM467.75 135.39h2.8v2.8h-2.8zM468.08 136.37h2.8v2.8h-2.8zM468.48 135.9h2.8v2.8h-2.8zM468.42 134.98h2.8v2.8h-2.8zM468.96 134.77h2.8v2.8h-2.8zM469.44 133.8h2.8v2.8h-2.8zM469.66 132.95h2.8v2.8h-2.8zM469.75 133.98h2.8v2.8h-2.8zM470.63 133.66h2.8v2.8h-2.8zM470.86 132.3h2.8v2.8h-2.8zM471.14 132.26h2.8v2.8h-2.8zM471.51 131.44h2.8v2.8h-2.8zM471.92 129.42h2.8v2.8h-2.8zM472.02 131.09h2.8v2.8h-2.8zM472.27 129.4h2.8v2.8h-2.8zM472.92 129.71h2.8v2.8h-2.8zM473.21 128.73h2.8v2.8h-2.8zM473.38 128.29h2.8v2.8h-2.8zM473.65 127.67h2.8v2.8h-2.8zM476.02 122.33h2.8v2.8h-2.8zM476.46 122.85h2.8v2.8h-2.8zM476.48 122.58h2.8v2.8h-2.8zM476.64 121.92h2.8v2.8h-2.8zM477.46 121.25h2.8v2.8h-2.8zM477.37 120.54h2.8v2.8h-2.8zM477.7 119.85h2.8v2.8h-2.8zM478.29 119.17h2.8v2.8h-2.8zM478.8 118.72h2.8v2.8h-2.8zM478.68 118.46h2.8v2.8h-2.8zM479.04 117.35h2.8v2.8h-2.8zM479.87 117.4h2.8v2.8h-2.8zM479.68 116.45h2.8v2.8h-2.8zM480.3 115.76h2.8v2.8h-2.8zM480.64 114.6h2.8v2.8h-2.8zM481.15 114.51h2.8v2.8h-2.8zM481.43 113.85h2.8v2.8h-2.8zM481.28 112.36h2.8v2.8h-2.8zM482.12 112.26h2.8v2.8h-2.8zM483.99 107.92h2.8v2.8h-2.8zM484.09 108.24h2.8v2.8h-2.8zM484.5 108.07h2.8v2.8h-2.8zM485.02 107.75h2.8v2.8h-2.8zM485.49 106.21h2.8v2.8h-2.8zM485.47 105.67h2.8v2.8h-2.8zM485.76 103.13h2.8v2.8h-2.8zM486.02 104.37h2.8v2.8h-2.8zM486.26 103.68h2.8v2.8h-2.8zM486.8 103.13h2.8v2.8h-2.8zM486.91 102.52h2.8v2.8h-2.8zM487.23 102.18h2.8v2.8h-2.8zM487.68 101.5h2.8v2.8h-2.8zM488.33 101.53h2.8v2.8h-2.8zM488.58 99.13h2.8v2.8h-2.8zM488.95 99.29h2.8v2.8h-2.8zM488.92 99.35h2.8v2.8h-2.8zM489.28 98.5h2.8v2.8h-2.8zM489.68 96.88h2.8v2.8h-2.8zM489.9 96.08h2.8v2.8h-2.8zM490.55 96.13h2.8v2.8h-2.8zM490.59 94.56h2.8v2.8h-2.8zM490.87 93.94h2.8v2.8h-2.8zM491.48 93.65h2.8v2.8h-2.8zM491.53 93.31h2.8v2.8h-2.8zM492.13 91.68h2.8v2.8h-2.8zM492.7 91.54h2.8v2.8h-2.8zM492.72 90.06h2.8v2.8h-2.8zM492.91 90.89h2.8v2.8h-2.8zM495.24 86.33h2.8v2.8h-2.8zM495.92 84.82h2.8v2.8h-2.8zM495.98 84.93h2.8v2.8h-2.8zM496.62 84.22h2.8v2.8h-2.8zM496.84 83.56h2.8v2.8h-2.8zM496.93 82.8h2.8v2.8h-2.8zM497.13 82.66h2.8v2.8h-2.8zM497.48 81.59h2.8v2.8h-2.8zM497.92 80.6h2.8v2.8h-2.8zM498.65 80.03h2.8v2.8h-2.8zM498.64 79.07h2.8v2.8h-2.8zM498.97 79.4h2.8v2.8h-2.8zM499.63 78.64h2.8v2.8h-2.8zM499.87 78.3h2.8v2.8h-2.8zM500.27 77.1h2.8v2.8h-2.8zM500.58 76.29h2.8v2.8h-2.8zM500.4 75.79h2.8v2.8h-2.8zM500.96 76.27h2.8v2.8h-2.8zM501.35 74.18h2.8v2.8h-2.8zM501.72 74.2h2.8v2.8h-2.8zM502.27 72.7h2.8v2.8h-2.8zM502.31 72.68h2.8v2.8h-2.8zM502.65 72.38h2.8v2.8h-2.8zM502.91 71.58h2.8v2.8h-2.8zM503.17 71.46h2.8v2.8h-2.8zM503.97 70.48h2.8v2.8h-2.8zM503.96 70.14h2.8v2.8h-2.8zM504.34 68.84h2.8v2.8h-2.8zM504.65 68.01h2.8v2.8h-2.8zM506.42 65.02h2.8v2.8h-2.8zM506.84 64.77h2.8v2.8h-2.8zM507.04 63.22h2.8v2.8h-2.8zM507.64 63.22h2.8v2.8h-2.8zM508.15 62.25h2.8v2.8h-2.8zM508.01 62.96h2.8v2.8h-2.8zM508.78 61.32h2.8v2.8h-2.8zM508.88 61.09h2.8v2.8h-2.8zM509.17 60.46h2.8v2.8h-2.8zM509.7 61.25h2.8v2.8h-2.8zM509.65 59.96h2.8v2.8h-2.8zM510.48 58.32h2.8v2.8h-2.8zM510.89 58.89h2.8v2.8h-2.8zM510.75 58.41h2.8v2.8h-2.8zM510.98 57.27h2.8v2.8h-2.8zM511.33 57.44h2.8v2.8h-2.8zM512.13 57.14h2.8v2.8h-2.8zM512.49 56.17h2.8v2.8h-2.8zM512.56 54.92h2.8v2.8h-2.8zM513.19 54.92h2.8v2.8h-2.8zM512.96 55.71h2.8v2.8h-2.8zM513.61 54.61h2.8v2.8h-2.8zM513.74 54.42h2.8v2.8h-2.8zM514.29 53.63h2.8v2.8h-2.8zM514.59 52.75h2.8v2.8h-2.8zM514.75 52.27h2.8v2.8h-2.8zM515.47 52.45h2.8v2.8h-2.8zM515.7 52.05h2.8v2.8h-2.8zM515.83 51.33h2.8v2.8h-2.8zM516.06 51.82h2.8v2.8h-2.8zM516.37 51.02h2.8v2.8h-2.8zM517 50.67h2.8v2.8h-2.8zM517.16 50.49h2.8v2.8h-2.8zM517.27 49.99h2.8v2.8h-2.8zM517.67 47.7h2.8v2.8h-2.8zM518.07 48.78h2.8v2.8h-2.8zM518.64 48.45h2.8v2.8h-2.8zM518.87 47.42h2.8v2.8h-2.8zM521.19 45.38h2.8v2.8h-2.8zM521.71 45.03h2.8v2.8h-2.8zM521.77 44.88h2.8v2.8h-2.8zM521.88 44.81h2.8v2.8h-2.8zM522.38 45.76h2.8v2.8h-2.8zM523.08 43.8h2.8v2.8h-2.8zM523.03 44.3h2.8v2.8h-2.8zM523.5 44.14h2.8v2.8h-2.8zM523.95 43.59h2.8v2.8h-2.8zM524.05 43.24h2.8v2.8h-2.8zM524.69 42.56h2.8v2.8h-2.8zM524.88 41.57h2.8v2.8h-2.8zM525.02 42.71h2.8v2.8h-2.8zM525.64 41.95h2.8v2.8h-2.8zM525.95 43.44h2.8v2.8h-2.8zM526.14 43.03h2.8v2.8h-2.8zM526.5 42.82h2.8v2.8h-2.8zM526.57 40.98h2.8v2.8h-2.8zM527.2 42.91h2.8v2.8h-2.8zM527.38 43.27h2.8v2.8h-2.8zM527.51 40.38h2.8v2.8h-2.8zM528.26 41.7h2.8v2.8h-2.8zM528.7 40.06h2.8v2.8h-2.8zM528.7 40.78h2.8v2.8h-2.8zM528.81 42.06h2.8v2.8h-2.8zM529.53 41.32h2.8v2.8h-2.8zM529.88 41.39h2.8v2.8h-2.8zM530.11 40.47h2.8v2.8h-2.8zM530.52 41.01h2.8v2.8h-2.8zM530.91 40.83h2.8v2.8h-2.8zM530.87 40.31h2.8v2.8h-2.8zM531.15 41.46h2.8v2.8h-2.8zM531.5 39.45h2.8v2.8h-2.8zM531.89 40.58h2.8v2.8h-2.8zM532.4 40.77h2.8v2.8h-2.8zM532.58 42.36h2.8v2.8h-2.8zM533.11 41.32h2.8v2.8h-2.8zM533.23 41.32h2.8v2.8h-2.8zM533.86 41.86h2.8v2.8h-2.8zM533.92 40.83h2.8v2.8h-2.8zM534.09 39.39h2.8v2.8h-2.8zM534.48 41.67h2.8v2.8h-2.8zM535 41.7h2.8v2.8h-2.8zM535.27 42.36h2.8v2.8h-2.8zM535.85 42.44h2.8v2.8h-2.8zM535.86 42.65h2.8v2.8h-2.8z" fill="#0672c2" clip-path="url(#ca)"/>
<rect x="54.4" y="264.3" width="189.1" height="169" fill="none" stroke="#939393" stroke-width="1.1"/>
<line x1="101.65" y1="433.3" x2="101.65" y2="430.8" stroke="#777" stroke-width="1"/>
<line x1="101.65" y1="264.3" x2="101.65" y2="266.8" stroke="#777" stroke-width="1"/>
<line x1="148.9" y1="433.3" x2="148.9" y2="430.8" stroke="#777" stroke-width="1"/>
<line x1="148.9" y1="264.3" x2="148.9" y2="266.8" stroke="#777" stroke-width="1"/>
<line x1="196.15" y1="433.3" x2="196.15" y2="430.8" stroke="#777" stroke-width="1"/>
<line x1="196.15" y1="264.3" x2="196.15" y2="266.8" stroke="#777" stroke-width="1"/>
<line x1="54.4" y1="288.5" x2="56.9" y2="288.5" stroke="#777" stroke-width="1"/>
<line x1="243.5" y1="288.5" x2="241" y2="288.5" stroke="#777" stroke-width="1"/>
<line x1="54.4" y1="312.63" x2="56.9" y2="312.63" stroke="#777" stroke-width="1"/>
<line x1="243.5" y1="312.63" x2="241" y2="312.63" stroke="#777" stroke-width="1"/>
<line x1="54.4" y1="336.76" x2="56.9" y2="336.76" stroke="#777" stroke-width="1"/>
<line x1="243.5" y1="336.76" x2="241" y2="336.76" stroke="#777" stroke-width="1"/>
<line x1="54.4" y1="360.89" x2="56.9" y2="360.89" stroke="#777" stroke-width="1"/>
<line x1="243.5" y1="360.89" x2="241" y2="360.89" stroke="#777" stroke-width="1"/>
<line x1="54.4" y1="385.02" x2="56.9" y2="385.02" stroke="#777" stroke-width="1"/>
<line x1="243.5" y1="385.02" x2="241" y2="385.02" stroke="#777" stroke-width="1"/>
<line x1="54.4" y1="409.15" x2="56.9" y2="409.15" stroke="#777" stroke-width="1"/>
<line x1="243.5" y1="409.15" x2="241" y2="409.15" stroke="#777" stroke-width="1"/>
<path d="M52.07 290.17h3.2v3.2h-3.2zM51.86 293.78h3.2v3.2h-3.2zM51.99 295.03h3.2v3.2h-3.2zM52.03 293.11h3.2v3.2h-3.2zM52.1 296.25h3.2v3.2h-3.2zM52.24 291.55h3.2v3.2h-3.2zM52.57 295.24h3.2v3.2h-3.2zM53.27 291.6h3.2v3.2h-3.2zM53.11 288.29h3.2v3.2h-3.2zM53.43 288.85h3.2v3.2h-3.2zM53.14 296.06h3.2v3.2h-3.2zM53.27 295.42h3.2v3.2h-3.2zM53.71 297.7h3.2v3.2h-3.2zM54.22 295.47h3.2v3.2h-3.2zM53.98 292.88h3.2v3.2h-3.2zM54.1 295.2h3.2v3.2h-3.2zM54.09 290.32h3.2v3.2h-3.2zM54.2 296.11h3.2v3.2h-3.2zM55.18 297.88h3.2v3.2h-3.2zM55.1 291.87h3.2v3.2h-3.2zM54.83 292.06h3.2v3.2h-3.2zM55.49 297.02h3.2v3.2h-3.2zM55.26 297.69h3.2v3.2h-3.2zM55.21 297.22h3.2v3.2h-3.2zM55.59 291.49h3.2v3.2h-3.2zM55.83 290.22h3.2v3.2h-3.2zM56.1 294.33h3.2v3.2h-3.2zM56.58 296.02h3.2v3.2h-3.2zM56.2 295.54h3.2v3.2h-3.2zM56.67 294.58h3.2v3.2h-3.2zM56.78 292.27h3.2v3.2h-3.2zM57.2 296.85h3.2v3.2h-3.2zM57.1 290.49h3.2v3.2h-3.2zM57.44 289.66h3.2v3.2h-3.2zM57.63 293.09h3.2v3.2h-3.2zM57.17 295.85h3.2v3.2h-3.2zM57.52 288.96h3.2v3.2h-3.2zM57.56 295.46h3.2v3.2h-3.2zM57.66 288.65h3.2v3.2h-3.2zM58.25 295.09h3.2v3.2h-3.2zM58.38 293.61h3.2v3.2h-3.2zM58.25 295.93h3.2v3.2h-3.2zM59.16 288.98h3.2v3.2h-3.2zM58.83 292.87h3.2v3.2h-3.2zM58.67 296.28h3.2v3.2h-3.2zM59.1 296.59h3.2v3.2h-3.2zM59.35 293.21h3.2v3.2h-3.2zM59.07 294.23h3.2v3.2h-3.2zM59.68 294.22h3.2v3.2h-3.2zM59.68 293.84h3.2v3.2h-3.2zM59.85 295.02h3.2v3.2h-3.2zM60.24 295.04h3.2v3.2h-3.2zM60.15 289.95h3.2v3.2h-3.2zM60.53 291.79h3.2v3.2h-3.2zM61.14 296.55h3.2v3.2h-3.2zM60.94 288.79h3.2v3.2h-3.2zM60.79 294.26h3.2v3.2h-3.2zM61.72 287.5h3.2v3.2h-3.2zM61.41 295.7h3.2v3.2h-3.2zM61.11 296h3.2v3.2h-3.2zM61.71 290.09h3.2v3.2h-3.2zM61.91 288.68h3.2v3.2h-3.2zM61.5 290.51h3.2v3.2h-3.2zM62.2 292.29h3.2v3.2h-3.2zM62.48 289.84h3.2v3.2h-3.2zM62.47 293.93h3.2v3.2h-3.2zM62.72 291.73h3.2v3.2h-3.2zM62.54 293.02h3.2v3.2h-3.2zM62.57 294.1h3.2v3.2h-3.2zM63.37 291.33h3.2v3.2h-3.2zM63.27 290.83h3.2v3.2h-3.2zM63.16 292.47h3.2v3.2h-3.2zM63.63 290.96h3.2v3.2h-3.2zM63.65 286.01h3.2v3.2h-3.2zM63.65 287.21h3.2v3.2h-3.2zM64.76 294.67h3.2v3.2h-3.2zM64.47 289.1h3.2v3.2h-3.2zM64.06 285.47h3.2v3.2h-3.2zM64.84 288.22h3.2v3.2h-3.2zM64.81 287.67h3.2v3.2h-3.2zM64.96 285.54h3.2v3.2h-3.2zM65.5 292.21h3.2v3.2h-3.2zM65.35 294.76h3.2v3.2h-3.2zM65.53 286.49h3.2v3.2h-3.2zM66.18 284.77h3.2v3.2h-3.2zM66.04 292.91h3.2v3.2h-3.2zM65.94 287.22h3.2v3.2h-3.2zM66.64 283.43h3.2v3.2h-3.2zM66.38 282.25h3.2v3.2h-3.2zM66.72 288.48h3.2v3.2h-3.2zM66.88 293.92h3.2v3.2h-3.2zM66.99 286.71h3.2v3.2h-3.2zM66.8 292.19h3.2v3.2h-3.2zM67.22 293.54h3.2v3.2h-3.2zM67.13 287.26h3.2v3.2h-3.2zM67.05 284.95h3.2v3.2h-3.2zM67.71 287.03h3.2v3.2h-3.2zM68.23 292.47h3.2v3.2h-3.2zM68.24 294.77h3.2v3.2h-3.2zM68.6 290.11h3.2v3.2h-3.2zM68.07 295.33h3.2v3.2h-3.2zM68.48 295.51h3.2v3.2h-3.2zM68.52 286.65h3.2v3.2h-3.2zM68.59 294.22h3.2v3.2h-3.2zM68.99 287.88h3.2v3.2h-3.2zM69.35 290.3h3.2v3.2h-3.2zM69.19 290.64h3.2v3.2h-3.2zM69.56 297.04h3.2v3.2h-3.2zM70.09 287.4h3.2v3.2h-3.2zM70.04 286.22h3.2v3.2h-3.2zM70.13 285.9h3.2v3.2h-3.2zM70.27 296.73h3.2v3.2h-3.2zM70.69 291.12h3.2v3.2h-3.2zM70.11 297.11h3.2v3.2h-3.2zM71.13 297.46h3.2v3.2h-3.2zM70.83 297.4h3.2v3.2h-3.2zM71.08 294.99h3.2v3.2h-3.2zM71.49 297.88h3.2v3.2h-3.2zM71.22 291.37h3.2v3.2h-3.2zM71.63 297.35h3.2v3.2h-3.2zM72.11 296.63h3.2v3.2h-3.2zM71.63 292.2h3.2v3.2h-3.2zM71.72 298.39h3.2v3.2h-3.2zM72.12 299.77h3.2v3.2h-3.2zM72.73 297.69h3.2v3.2h-3.2zM72.75 295.54h3.2v3.2h-3.2zM72.59 290.35h3.2v3.2h-3.2zM73.08 300.28h3.2v3.2h-3.2zM73.02 292.34h3.2v3.2h-3.2zM73.52 299.29h3.2v3.2h-3.2zM73.74 293.75h3.2v3.2h-3.2zM73.34 302.04h3.2v3.2h-3.2zM74.19 298.69h3.2v3.2h-3.2zM73.88 294.81h3.2v3.2h-3.2zM73.62 291.74h3.2v3.2h-3.2zM74.59 300.86h3.2v3.2h-3.2zM74.3 291.19h3.2v3.2h-3.2zM74.03 292.52h3.2v3.2h-3.2zM74.53 298.88h3.2v3.2h-3.2zM75.07 294.56h3.2v3.2h-3.2zM75.25 297.51h3.2v3.2h-3.2zM75.15 298.4h3.2v3.2h-3.2zM75.13 294.87h3.2v3.2h-3.2zM75.63 299.7h3.2v3.2h-3.2zM75.99 291.76h3.2v3.2h-3.2zM76 299.95h3.2v3.2h-3.2zM75.85 295.16h3.2v3.2h-3.2zM76.6 298.94h3.2v3.2h-3.2zM76.66 292.79h3.2v3.2h-3.2zM76.13 300.62h3.2v3.2h-3.2zM76.61 294.53h3.2v3.2h-3.2zM76.71 295.21h3.2v3.2h-3.2zM77.11 294.15h3.2v3.2h-3.2zM77.77 299.15h3.2v3.2h-3.2zM77.47 300.25h3.2v3.2h-3.2zM77.44 300.08h3.2v3.2h-3.2zM77.73 290.8h3.2v3.2h-3.2zM78.26 296.02h3.2v3.2h-3.2zM78.26 296.71h3.2v3.2h-3.2zM78.29 298.6h3.2v3.2h-3.2zM78.78 295.43h3.2v3.2h-3.2zM78.05 291.01h3.2v3.2h-3.2zM78.59 290h3.2v3.2h-3.2zM79.05 298.95h3.2v3.2h-3.2zM79.04 300.23h3.2v3.2h-3.2zM79.78 287.56h3.2v3.2h-3.2zM79.01 291.39h3.2v3.2h-3.2zM79.47 292.88h3.2v3.2h-3.2zM80.17 289.92h3.2v3.2h-3.2zM79.71 288.48h3.2v3.2h-3.2zM79.76 299.62h3.2v3.2h-3.2zM80.66 297.38h3.2v3.2h-3.2zM80.6 301.54h3.2v3.2h-3.2zM80.29 291.11h3.2v3.2h-3.2zM81 300.84h3.2v3.2h-3.2zM81.08 296.18h3.2v3.2h-3.2zM81.22 294.78h3.2v3.2h-3.2zM81.47 288.63h3.2v3.2h-3.2zM81.4 298.04h3.2v3.2h-3.2zM81.33 294.72h3.2v3.2h-3.2zM81.69 287.92h3.2v3.2h-3.2zM82.16 297.55h3.2v3.2h-3.2zM81.88 290.45h3.2v3.2h-3.2zM82.54 297.49h3.2v3.2h-3.2zM82.4 298.4h3.2v3.2h-3.2zM82.14 299.57h3.2v3.2h-3.2zM83.02 292.44h3.2v3.2h-3.2zM82.91 293.65h3.2v3.2h-3.2zM82.62 300.41h3.2v3.2h-3.2zM83.34 300.28h3.2v3.2h-3.2zM83.68 288.77h3.2v3.2h-3.2zM83.5 296.85h3.2v3.2h-3.2zM84.09 293.5h3.2v3.2h-3.2zM83.63 298.65h3.2v3.2h-3.2zM84.03 298.02h3.2v3.2h-3.2zM84.32 289.31h3.2v3.2h-3.2zM84.55 292.13h3.2v3.2h-3.2zM84.21 303.63h3.2v3.2h-3.2zM84.84 295.38h3.2v3.2h-3.2zM84.93 292.04h3.2v3.2h-3.2zM84.58 303.41h3.2v3.2h-3.2zM85.4 292.11h3.2v3.2h-3.2zM85.75 300.45h3.2v3.2h-3.2zM85.11 300.53h3.2v3.2h-3.2zM85.96 298.61h3.2v3.2h-3.2zM86.14 299.63h3.2v3.2h-3.2zM85.54 291.43h3.2v3.2h-3.2zM86.29 294.46h3.2v3.2h-3.2zM86.78 298.48h3.2v3.2h-3.2zM86.58 290.55h3.2v3.2h-3.2zM87.07 292.55h3.2v3.2h-3.2zM87.04 292.09h3.2v3.2h-3.2zM87.2 294.42h3.2v3.2h-3.2zM87.69 301.48h3.2v3.2h-3.2zM87.52 297.75h3.2v3.2h-3.2zM87.16 301.93h3.2v3.2h-3.2zM87.91 295.08h3.2v3.2h-3.2zM87.72 297.55h3.2v3.2h-3.2zM87.84 296.71h3.2v3.2h-3.2zM88.62 297.19h3.2v3.2h-3.2zM88.41 298.7h3.2v3.2h-3.2zM88.41 294.69h3.2v3.2h-3.2zM89.15 296.42h3.2v3.2h-3.2zM88.67 297.14h3.2v3.2h-3.2zM88.75 296.87h3.2v3.2h-3.2zM89.19 299.84h3.2v3.2h-3.2zM89.54 300.26h3.2v3.2h-3.2zM89.22 299.03h3.2v3.2h-3.2zM89.92 295.34h3.2v3.2h-3.2zM90.14 300.69h3.2v3.2h-3.2zM89.59 296.99h3.2v3.2h-3.2zM90.22 299.93h3.2v3.2h-3.2zM90.72 299.93h3.2v3.2h-3.2zM90.35 303.13h3.2v3.2h-3.2zM90.63 304.46h3.2v3.2h-3.2zM91.18 297.8h3.2v3.2h-3.2zM91.21 298.29h3.2v3.2h-3.2zM91.1 303.06h3.2v3.2h-3.2zM91.32 304.26h3.2v3.2h-3.2zM91.02 301.43h3.2v3.2h-3.2zM92.11 297.17h3.2v3.2h-3.2zM92 300.06h3.2v3.2h-3.2zM91.99 303.5h3.2v3.2h-3.2zM92.19 306h3.2v3.2h-3.2zM92.26 303.6h3.2v3.2h-3.2zM92.52 298.68h3.2v3.2h-3.2zM92.75 300.61h3.2v3.2h-3.2zM93.22 303.12h3.2v3.2h-3.2zM92.69 300.56h3.2v3.2h-3.2zM93.03 305.72h3.2v3.2h-3.2zM93.22 307.77h3.2v3.2h-3.2zM93.79 307.57h3.2v3.2h-3.2zM94.12 303.09h3.2v3.2h-3.2zM93.81 309.82h3.2v3.2h-3.2zM93.71 309.35h3.2v3.2h-3.2zM94.37 312.59h3.2v3.2h-3.2zM94.07 301.76h3.2v3.2h-3.2zM94.41 305.81h3.2v3.2h-3.2zM94.64 307.35h3.2v3.2h-3.2zM94.8 307.29h3.2v3.2h-3.2zM95.2 311.02h3.2v3.2h-3.2zM95.23 308.89h3.2v3.2h-3.2zM95.3 304.23h3.2v3.2h-3.2zM95.43 304.49h3.2v3.2h-3.2zM95.83 310.99h3.2v3.2h-3.2zM95.82 311.86h3.2v3.2h-3.2zM96.03 305.69h3.2v3.2h-3.2zM96.37 306.86h3.2v3.2h-3.2zM96.59 310.76h3.2v3.2h-3.2zM96.77 305.53h3.2v3.2h-3.2zM96.66 308.87h3.2v3.2h-3.2zM97.06 306.64h3.2v3.2h-3.2zM96.61 307.23h3.2v3.2h-3.2zM97.44 308.85h3.2v3.2h-3.2zM97.49 305.75h3.2v3.2h-3.2zM97.54 305.76h3.2v3.2h-3.2zM97.68 311.15h3.2v3.2h-3.2zM97.95 308.32h3.2v3.2h-3.2zM97.86 310.92h3.2v3.2h-3.2zM98.49 311.36h3.2v3.2h-3.2zM98.78 304.98h3.2v3.2h-3.2zM98.68 312.14h3.2v3.2h-3.2zM98.85 315.81h3.2v3.2h-3.2zM98.93 314.08h3.2v3.2h-3.2zM99.22 314.44h3.2v3.2h-3.2zM99.06 309.46h3.2v3.2h-3.2zM99.13 312.47h3.2v3.2h-3.2zM99.74 309h3.2v3.2h-3.2zM100.14 317.16h3.2v3.2h-3.2zM100.15 309.29h3.2v3.2h-3.2zM99.57 314.3h3.2v3.2h-3.2zM100.11 313h3.2v3.2h-3.2zM100.63 314.04h3.2v3.2h-3.2zM100.77 311.13h3.2v3.2h-3.2zM101.06 315.17h3.2v3.2h-3.2zM100.67 310.22h3.2v3.2h-3.2zM100.91 316.57h3.2v3.2h-3.2zM101.7 314.34h3.2v3.2h-3.2zM101.28 310.47h3.2v3.2h-3.2zM101.32 314.13h3.2v3.2h-3.2zM101.91 315.54h3.2v3.2h-3.2zM102.08 314.34h3.2v3.2h-3.2zM101.58 310.36h3.2v3.2h-3.2zM102.46 311.54h3.2v3.2h-3.2zM102 309.18h3.2v3.2h-3.2zM102.66 314.35h3.2v3.2h-3.2zM103.12 312.83h3.2v3.2h-3.2zM103.13 310.41h3.2v3.2h-3.2zM102.85 313.21h3.2v3.2h-3.2zM103.33 309.48h3.2v3.2h-3.2zM103.18 311.74h3.2v3.2h-3.2zM103.12 314.26h3.2v3.2h-3.2zM103.93 308.81h3.2v3.2h-3.2zM104.17 311h3.2v3.2h-3.2zM103.66 307.3h3.2v3.2h-3.2zM104.17 313.32h3.2v3.2h-3.2zM104.58 315.16h3.2v3.2h-3.2zM104.52 310.34h3.2v3.2h-3.2zM105.05 309.41h3.2v3.2h-3.2zM105.09 310.09h3.2v3.2h-3.2zM105.2 309.69h3.2v3.2h-3.2zM105.07 310.26h3.2v3.2h-3.2zM105.24 313.3h3.2v3.2h-3.2zM105.63 313.09h3.2v3.2h-3.2zM105.59 312.51h3.2v3.2h-3.2zM106.3 315.7h3.2v3.2h-3.2zM105.83 316.64h3.2v3.2h-3.2zM106.76 313.34h3.2v3.2h-3.2zM106.35 315.14h3.2v3.2h-3.2zM106.38 317.46h3.2v3.2h-3.2zM107.03 319.62h3.2v3.2h-3.2zM106.96 316.38h3.2v3.2h-3.2zM107.19 313.31h3.2v3.2h-3.2zM107.01 320.83h3.2v3.2h-3.2zM107.67 318.32h3.2v3.2h-3.2zM107.24 316.76h3.2v3.2h-3.2zM108.03 314.9h3.2v3.2h-3.2zM107.76 317.06h3.2v3.2h-3.2zM107.6 318.7h3.2v3.2h-3.2zM108.44 321.05h3.2v3.2h-3.2zM108.58 321.24h3.2v3.2h-3.2zM108.02 313.3h3.2v3.2h-3.2zM108.9 315.63h3.2v3.2h-3.2zM108.92 317.98h3.2v3.2h-3.2zM108.81 316.83h3.2v3.2h-3.2zM109.52 323.83h3.2v3.2h-3.2zM109.6 322.6h3.2v3.2h-3.2zM109.03 317.57h3.2v3.2h-3.2zM110.11 318.39h3.2v3.2h-3.2zM109.92 318.89h3.2v3.2h-3.2zM110.22 319.9h3.2v3.2h-3.2zM110.73 321.56h3.2v3.2h-3.2zM110.57 320.82h3.2v3.2h-3.2zM110.09 319.44h3.2v3.2h-3.2zM110.6 321.44h3.2v3.2h-3.2zM110.68 321.64h3.2v3.2h-3.2zM110.66 321.69h3.2v3.2h-3.2zM111.2 325.63h3.2v3.2h-3.2zM111.04 324.19h3.2v3.2h-3.2zM111.76 325.43h3.2v3.2h-3.2zM111.55 325.34h3.2v3.2h-3.2zM112.08 324.94h3.2v3.2h-3.2zM111.65 323.97h3.2v3.2h-3.2zM112.22 324.73h3.2v3.2h-3.2zM112.64 324.84h3.2v3.2h-3.2zM112.09 324.55h3.2v3.2h-3.2zM112.83 324.74h3.2v3.2h-3.2zM113.28 325.03h3.2v3.2h-3.2zM113.25 325.03h3.2v3.2h-3.2zM113.8 324.69h3.2v3.2h-3.2zM113.45 324.77h3.2v3.2h-3.2zM113.14 323.52h3.2v3.2h-3.2zM114.07 324.56h3.2v3.2h-3.2zM113.58 324.41h3.2v3.2h-3.2zM114.05 324.99h3.2v3.2h-3.2zM114.34 326.29h3.2v3.2h-3.2zM114.59 325.33h3.2v3.2h-3.2zM114.46 325.78h3.2v3.2h-3.2zM115.12 326.56h3.2v3.2h-3.2zM115.17 326.65h3.2v3.2h-3.2zM115.07 325.15h3.2v3.2h-3.2zM115.63 327.89h3.2v3.2h-3.2zM115.29 326.37h3.2v3.2h-3.2zM115.68 327.59h3.2v3.2h-3.2zM115.67 324.93h3.2v3.2h-3.2zM115.62 325.72h3.2v3.2h-3.2zM116.18 327.38h3.2v3.2h-3.2zM116.32 325.52h3.2v3.2h-3.2zM116.3 324.23h3.2v3.2h-3.2zM116.3 324.23h3.2v3.2h-3.2zM116.52 326.63h3.2v3.2h-3.2zM116.97 325.96h3.2v3.2h-3.2zM116.73 328.07h3.2v3.2h-3.2zM117.1 331.39h3.2v3.2h-3.2zM117.65 330.04h3.2v3.2h-3.2zM117.65 329.65h3.2v3.2h-3.2zM117.65 326.92h3.2v3.2h-3.2zM118.12 329.55h3.2v3.2h-3.2zM118.24 329.07h3.2v3.2h-3.2zM118.3 327.54h3.2v3.2h-3.2zM118.57 326.39h3.2v3.2h-3.2zM118.53 330.64h3.2v3.2h-3.2zM119.11 327.86h3.2v3.2h-3.2zM119 327.06h3.2v3.2h-3.2zM119.05 330.13h3.2v3.2h-3.2zM119.27 325.61h3.2v3.2h-3.2zM119.36 330.56h3.2v3.2h-3.2zM119.14 329.61h3.2v3.2h-3.2zM119.51 325.21h3.2v3.2h-3.2zM120.26 327.56h3.2v3.2h-3.2zM120.12 327.17h3.2v3.2h-3.2zM120.32 326.34h3.2v3.2h-3.2zM120.26 327.95h3.2v3.2h-3.2zM120.16 327.77h3.2v3.2h-3.2zM120.84 324.91h3.2v3.2h-3.2zM121.27 328.47h3.2v3.2h-3.2zM120.96 328.47h3.2v3.2h-3.2zM121.05 325.69h3.2v3.2h-3.2zM121.39 327.15h3.2v3.2h-3.2zM121.59 326.43h3.2v3.2h-3.2zM122.2 324.73h3.2v3.2h-3.2zM121.54 329.34h3.2v3.2h-3.2zM121.72 328.76h3.2v3.2h-3.2zM122.46 329.24h3.2v3.2h-3.2zM122.61 325.71h3.2v3.2h-3.2zM122.43 327.33h3.2v3.2h-3.2zM123.29 329.42h3.2v3.2h-3.2zM122.94 322.72h3.2v3.2h-3.2zM123 328h3.2v3.2h-3.2zM123.76 325.65h3.2v3.2h-3.2zM123.7 322.24h3.2v3.2h-3.2zM123.02 322.54h3.2v3.2h-3.2zM123.68 324.06h3.2v3.2h-3.2zM123.98 326.71h3.2v3.2h-3.2zM124.26 324.56h3.2v3.2h-3.2zM124.31 323.96h3.2v3.2h-3.2zM124.14 324.63h3.2v3.2h-3.2zM124.75 326.08h3.2v3.2h-3.2zM124.63 325.61h3.2v3.2h-3.2zM124.94 328.55h3.2v3.2h-3.2zM124.76 329.29h3.2v3.2h-3.2zM125.46 324.71h3.2v3.2h-3.2zM125.41 323.24h3.2v3.2h-3.2zM125.66 323.41h3.2v3.2h-3.2zM125.5 329.41h3.2v3.2h-3.2zM125.58 329.85h3.2v3.2h-3.2zM126.01 329.07h3.2v3.2h-3.2zM126.74 327.13h3.2v3.2h-3.2zM126.55 327.03h3.2v3.2h-3.2zM126.22 330.84h3.2v3.2h-3.2zM127.21 324.64h3.2v3.2h-3.2zM127.04 325.51h3.2v3.2h-3.2zM127.11 324.53h3.2v3.2h-3.2zM127.37 326.61h3.2v3.2h-3.2zM127.09 330.18h3.2v3.2h-3.2zM127.13 327.06h3.2v3.2h-3.2zM127.57 325.86h3.2v3.2h-3.2zM128.2 326.94h3.2v3.2h-3.2zM127.52 328.07h3.2v3.2h-3.2zM128.63 330.46h3.2v3.2h-3.2zM128.1 328.96h3.2v3.2h-3.2zM128.23 328.1h3.2v3.2h-3.2zM129.19 328.01h3.2v3.2h-3.2zM128.8 329.66h3.2v3.2h-3.2zM128.86 331.15h3.2v3.2h-3.2zM129.08 327.14h3.2v3.2h-3.2zM129.13 328.26h3.2v3.2h-3.2zM129.38 327.94h3.2v3.2h-3.2zM129.6 329.49h3.2v3.2h-3.2zM130.24 328.41h3.2v3.2h-3.2zM129.91 328.51h3.2v3.2h-3.2zM130.72 328.36h3.2v3.2h-3.2zM130.77 329.92h3.2v3.2h-3.2zM130.51 327.25h3.2v3.2h-3.2zM131.16 330.66h3.2v3.2h-3.2zM130.67 328.76h3.2v3.2h-3.2zM130.83 330.05h3.2v3.2h-3.2zM131.78 330.23h3.2v3.2h-3.2zM131.33 328.04h3.2v3.2h-3.2zM131.76 329.56h3.2v3.2h-3.2zM131.92 328.51h3.2v3.2h-3.2zM132.29 329.88h3.2v3.2h-3.2zM131.83 329.39h3.2v3.2h-3.2zM132.34 330.18h3.2v3.2h-3.2zM132.39 328.79h3.2v3.2h-3.2zM132.45 329.59h3.2v3.2h-3.2zM133.13 329.5h3.2v3.2h-3.2zM133.12 331.55h3.2v3.2h-3.2zM132.93 330.29h3.2v3.2h-3.2zM133.3 331.06h3.2v3.2h-3.2zM133.24 331.8h3.2v3.2h-3.2zM133.52 329.3h3.2v3.2h-3.2zM134 331.25h3.2v3.2h-3.2zM133.69 329.64h3.2v3.2h-3.2zM134.15 329.35h3.2v3.2h-3.2zM134.48 329.41h3.2v3.2h-3.2zM134.45 330.11h3.2v3.2h-3.2zM134.54 329.05h3.2v3.2h-3.2zM134.68 328.73h3.2v3.2h-3.2zM135.19 329.28h3.2v3.2h-3.2zM134.74 329.86h3.2v3.2h-3.2zM135.28 328.84h3.2v3.2h-3.2zM135.65 329.96h3.2v3.2h-3.2zM135.79 330.51h3.2v3.2h-3.2zM135.81 328.85h3.2v3.2h-3.2zM135.67 331.11h3.2v3.2h-3.2zM136.1 331.15h3.2v3.2h-3.2zM136.38 330.78h3.2v3.2h-3.2zM136.53 328.45h3.2v3.2h-3.2zM136.35 330.76h3.2v3.2h-3.2zM136.98 328.78h3.2v3.2h-3.2zM136.75 330.41h3.2v3.2h-3.2zM136.78 329.21h3.2v3.2h-3.2zM137.09 327.76h3.2v3.2h-3.2zM137.08 330.08h3.2v3.2h-3.2zM137.22 328.08h3.2v3.2h-3.2zM138.06 328.49h3.2v3.2h-3.2zM138.26 329.87h3.2v3.2h-3.2zM137.76 328.52h3.2v3.2h-3.2zM138.25 331.59h3.2v3.2h-3.2zM138.22 327.17h3.2v3.2h-3.2zM138.29 328.14h3.2v3.2h-3.2zM138.86 329.54h3.2v3.2h-3.2zM139.12 329.72h3.2v3.2h-3.2zM139.23 331.11h3.2v3.2h-3.2zM139.55 334.93h3.2v3.2h-3.2zM139.46 339.06h3.2v3.2h-3.2zM139.37 343.59h3.2v3.2h-3.2zM139.68 347.45h3.2v3.2h-3.2zM139.91 352.09h3.2v3.2h-3.2zM144.37 355h3.2v3.2h-3.2zM144.57 358.92h3.2v3.2h-3.2zM144.97 362.83h3.2v3.2h-3.2zM144.9 366.98h3.2v3.2h-3.2zM144.85 370.96h3.2v3.2h-3.2zM144.53 373.39h3.2v3.2h-3.2zM144.62 373.55h3.2v3.2h-3.2zM145.14 374.02h3.2v3.2h-3.2zM145.17 375.77h3.2v3.2h-3.2zM145.75 375.54h3.2v3.2h-3.2zM145.77 374.52h3.2v3.2h-3.2zM145.94 375.44h3.2v3.2h-3.2zM146.18 375.52h3.2v3.2h-3.2zM145.98 375.25h3.2v3.2h-3.2zM146.58 375.14h3.2v3.2h-3.2zM146.33 375.64h3.2v3.2h-3.2zM146.31 377.32h3.2v3.2h-3.2zM146.94 377.14h3.2v3.2h-3.2zM146.56 375.3h3.2v3.2h-3.2zM146.84 377.25h3.2v3.2h-3.2zM147.56 378.79h3.2v3.2h-3.2zM147.01 377.67h3.2v3.2h-3.2zM147.48 378.63h3.2v3.2h-3.2zM147.72 373.78h3.2v3.2h-3.2zM148.3 373.85h3.2v3.2h-3.2zM147.62 377.59h3.2v3.2h-3.2zM148.33 376.83h3.2v3.2h-3.2zM148.05 375.65h3.2v3.2h-3.2zM148.76 379.49h3.2v3.2h-3.2zM148.89 372.99h3.2v3.2h-3.2zM148.91 376.09h3.2v3.2h-3.2zM149.2 378.24h3.2v3.2h-3.2zM149.52 373.78h3.2v3.2h-3.2zM149.41 375.98h3.2v3.2h-3.2zM149.17 375.6h3.2v3.2h-3.2zM149.83 374.78h3.2v3.2h-3.2zM149.89 373h3.2v3.2h-3.2zM150.08 378.37h3.2v3.2h-3.2zM150.44 377.35h3.2v3.2h-3.2zM150.13 376.57h3.2v3.2h-3.2zM150.64 375.11h3.2v3.2h-3.2zM151.08 374.16h3.2v3.2h-3.2zM151.12 377.45h3.2v3.2h-3.2zM151.24 376.04h3.2v3.2h-3.2zM151.61 376.2h3.2v3.2h-3.2zM151.34 376.12h3.2v3.2h-3.2zM151.45 375.33h3.2v3.2h-3.2zM152.28 375h3.2v3.2h-3.2zM151.82 376.81h3.2v3.2h-3.2zM151.79 375.11h3.2v3.2h-3.2zM152.23 377.51h3.2v3.2h-3.2zM152.05 375.68h3.2v3.2h-3.2zM152.19 377.6h3.2v3.2h-3.2zM152.81 377h3.2v3.2h-3.2zM153.19 374.64h3.2v3.2h-3.2zM152.97 377.25h3.2v3.2h-3.2zM153.05 376.31h3.2v3.2h-3.2zM153.65 377.42h3.2v3.2h-3.2zM153.71 377.15h3.2v3.2h-3.2zM153.84 374.53h3.2v3.2h-3.2zM154.08 375.24h3.2v3.2h-3.2zM153.77 374.64h3.2v3.2h-3.2zM154.15 375.39h3.2v3.2h-3.2zM154.76 376.58h3.2v3.2h-3.2zM154.48 377.57h3.2v3.2h-3.2zM154.77 376.08h3.2v3.2h-3.2zM154.95 373.33h3.2v3.2h-3.2zM154.99 373.97h3.2v3.2h-3.2zM155.22 374.6h3.2v3.2h-3.2zM155.21 376.96h3.2v3.2h-3.2zM155.13 375.42h3.2v3.2h-3.2zM155.82 373.88h3.2v3.2h-3.2zM155.88 376.4h3.2v3.2h-3.2zM156.22 374.72h3.2v3.2h-3.2zM156.42 373.81h3.2v3.2h-3.2zM156.22 375.02h3.2v3.2h-3.2zM156.29 373.48h3.2v3.2h-3.2zM156.64 374.81h3.2v3.2h-3.2zM156.93 374.4h3.2v3.2h-3.2zM156.85 373.69h3.2v3.2h-3.2zM157.44 373.7h3.2v3.2h-3.2zM157.23 374.08h3.2v3.2h-3.2zM157.63 373.92h3.2v3.2h-3.2zM157.59 376.15h3.2v3.2h-3.2zM157.71 373.38h3.2v3.2h-3.2zM157.97 374.98h3.2v3.2h-3.2zM158.27 376.03h3.2v3.2h-3.2zM158.2 372.6h3.2v3.2h-3.2zM158.52 375.54h3.2v3.2h-3.2zM158.66 373.61h3.2v3.2h-3.2zM159.01 374.93h3.2v3.2h-3.2zM158.72 374.61h3.2v3.2h-3.2zM159.28 374.02h3.2v3.2h-3.2zM159.74 374.47h3.2v3.2h-3.2zM159.5 374.66h3.2v3.2h-3.2zM159.59 374.94h3.2v3.2h-3.2zM159.91 374.93h3.2v3.2h-3.2zM160.08 375.49h3.2v3.2h-3.2zM160.01 373.91h3.2v3.2h-3.2zM160.48 374.78h3.2v3.2h-3.2zM160.24 376.23h3.2v3.2h-3.2zM161.14 373.76h3.2v3.2h-3.2zM161.03 374.94h3.2v3.2h-3.2zM160.63 374.59h3.2v3.2h-3.2zM161.44 374.29h3.2v3.2h-3.2zM161.07 374.36h3.2v3.2h-3.2zM161.69 374.06h3.2v3.2h-3.2zM161.96 375.46h3.2v3.2h-3.2zM161.58 373.63h3.2v3.2h-3.2zM161.83 376.94h3.2v3.2h-3.2zM161.72 381.8h3.2v3.2h-3.2zM165.15 385.8h3.2v3.2h-3.2zM168.55 389.49h3.2v3.2h-3.2zM170.3 388.69h3.2v3.2h-3.2zM170.67 386.97h3.2v3.2h-3.2zM170.27 387.45h3.2v3.2h-3.2zM170.78 388.83h3.2v3.2h-3.2zM171.19 388.65h3.2v3.2h-3.2zM170.79 388.88h3.2v3.2h-3.2zM171.07 389.39h3.2v3.2h-3.2zM171.03 387.62h3.2v3.2h-3.2zM171.44 389.42h3.2v3.2h-3.2zM172.24 389.16h3.2v3.2h-3.2zM172.04 388.46h3.2v3.2h-3.2zM172.05 389.29h3.2v3.2h-3.2zM172.62 388.05h3.2v3.2h-3.2zM172.62 388.41h3.2v3.2h-3.2zM172.72 388.42h3.2v3.2h-3.2zM173.27 389.53h3.2v3.2h-3.2zM172.74 390.51h3.2v3.2h-3.2zM173.14 390.34h3.2v3.2h-3.2zM173.45 390.68h3.2v3.2h-3.2zM173.77 391.19h3.2v3.2h-3.2zM173.57 387.83h3.2v3.2h-3.2zM174.07 389.71h3.2v3.2h-3.2zM174.3 392.05h3.2v3.2h-3.2zM173.56 389.31h3.2v3.2h-3.2zM174.06 390.77h3.2v3.2h-3.2zM174.45 393.73h3.2v3.2h-3.2zM174.48 391.61h3.2v3.2h-3.2zM175.16 394.96h3.2v3.2h-3.2zM174.78 390.14h3.2v3.2h-3.2zM175.29 390.42h3.2v3.2h-3.2zM175.02 392.85h3.2v3.2h-3.2zM175.42 393.19h3.2v3.2h-3.2zM175.45 393.37h3.2v3.2h-3.2zM176.07 396.89h3.2v3.2h-3.2zM175.73 394.55h3.2v3.2h-3.2zM175.99 390.73h3.2v3.2h-3.2zM176.65 400.1h3.2v3.2h-3.2zM176.22 395.9h3.2v3.2h-3.2zM176.09 398.58h3.2v3.2h-3.2zM176.59 395.37h3.2v3.2h-3.2zM177.23 400.39h3.2v3.2h-3.2zM176.64 395.17h3.2v3.2h-3.2zM177.43 400.7h3.2v3.2h-3.2zM177.75 399.7h3.2v3.2h-3.2zM177.8 392.86h3.2v3.2h-3.2zM177.71 401.5h3.2v3.2h-3.2zM177.96 396.83h3.2v3.2h-3.2zM178.2 400.37h3.2v3.2h-3.2zM178.76 391.4h3.2v3.2h-3.2zM178.47 393.73h3.2v3.2h-3.2zM178.52 393.55h3.2v3.2h-3.2zM178.78 393.04h3.2v3.2h-3.2zM179.3 393.75h3.2v3.2h-3.2zM179.14 400.23h3.2v3.2h-3.2zM179.41 398.4h3.2v3.2h-3.2zM179.54 403.06h3.2v3.2h-3.2zM179.45 401.62h3.2v3.2h-3.2zM179.96 398.17h3.2v3.2h-3.2zM179.85 393.92h3.2v3.2h-3.2zM179.97 394.33h3.2v3.2h-3.2zM180.11 392.91h3.2v3.2h-3.2zM180.69 394.65h3.2v3.2h-3.2zM180 401.3h3.2v3.2h-3.2zM180.69 396.23h3.2v3.2h-3.2zM180.67 398.02h3.2v3.2h-3.2zM180.59 392.72h3.2v3.2h-3.2zM181.25 401.98h3.2v3.2h-3.2zM181.32 396.4h3.2v3.2h-3.2zM181.64 398.86h3.2v3.2h-3.2zM182.23 398.29h3.2v3.2h-3.2zM182.04 393.07h3.2v3.2h-3.2zM181.99 395.72h3.2v3.2h-3.2zM182.49 396.8h3.2v3.2h-3.2zM182.37 396.33h3.2v3.2h-3.2zM182.8 397.54h3.2v3.2h-3.2zM183.09 393.78h3.2v3.2h-3.2zM183.3 394.02h3.2v3.2h-3.2zM182.85 395.4h3.2v3.2h-3.2zM183.79 393.51h3.2v3.2h-3.2zM183.38 392.26h3.2v3.2h-3.2zM183.74 398.44h3.2v3.2h-3.2zM183.52 395.16h3.2v3.2h-3.2zM183.66 396.28h3.2v3.2h-3.2zM184.27 399.61h3.2v3.2h-3.2zM184.62 396.51h3.2v3.2h-3.2zM184.26 391.39h3.2v3.2h-3.2zM184.03 399.75h3.2v3.2h-3.2zM185.12 399.34h3.2v3.2h-3.2zM184.84 395.69h3.2v3.2h-3.2zM185.24 396.11h3.2v3.2h-3.2zM185.03 399.46h3.2v3.2h-3.2zM185.5 400.64h3.2v3.2h-3.2zM185.74 395.96h3.2v3.2h-3.2zM185.55 395.88h3.2v3.2h-3.2zM186.15 401.97h3.2v3.2h-3.2zM185.59 392.67h3.2v3.2h-3.2zM186.1 400.18h3.2v3.2h-3.2zM186.67 392.83h3.2v3.2h-3.2zM186.19 400.56h3.2v3.2h-3.2zM186.83 403.61h3.2v3.2h-3.2zM186.96 400.09h3.2v3.2h-3.2zM187.24 402.41h3.2v3.2h-3.2zM187.26 400.17h3.2v3.2h-3.2zM187.05 395.69h3.2v3.2h-3.2zM187.8 396.71h3.2v3.2h-3.2zM187.77 397.38h3.2v3.2h-3.2zM188.06 396.33h3.2v3.2h-3.2zM188.18 401.02h3.2v3.2h-3.2zM188.06 399.88h3.2v3.2h-3.2zM188.1 397.16h3.2v3.2h-3.2zM188.59 396.73h3.2v3.2h-3.2zM189 405.48h3.2v3.2h-3.2zM188.82 401.45h3.2v3.2h-3.2zM189.19 401.79h3.2v3.2h-3.2zM189.41 402.02h3.2v3.2h-3.2zM189.43 401.19h3.2v3.2h-3.2zM189.46 404.29h3.2v3.2h-3.2zM189.5 406.85h3.2v3.2h-3.2zM189.6 408.42h3.2v3.2h-3.2zM190.03 401.42h3.2v3.2h-3.2zM190.31 402.61h3.2v3.2h-3.2zM190.2 402.62h3.2v3.2h-3.2zM190.29 403.69h3.2v3.2h-3.2zM190.89 409.05h3.2v3.2h-3.2zM191.22 401.86h3.2v3.2h-3.2zM191.16 405.77h3.2v3.2h-3.2zM191.09 407.1h3.2v3.2h-3.2zM191.54 405.51h3.2v3.2h-3.2zM191.3 408.22h3.2v3.2h-3.2zM192.22 410.81h3.2v3.2h-3.2zM191.64 403.88h3.2v3.2h-3.2zM192.19 406.34h3.2v3.2h-3.2zM192.21 407.5h3.2v3.2h-3.2zM192.19 409.33h3.2v3.2h-3.2zM192.64 407.5h3.2v3.2h-3.2zM193.01 406.44h3.2v3.2h-3.2zM193.1 409.04h3.2v3.2h-3.2zM192.64 405.73h3.2v3.2h-3.2zM193.71 405.35h3.2v3.2h-3.2zM193.18 411.14h3.2v3.2h-3.2zM193.02 410.49h3.2v3.2h-3.2zM194.12 411.57h3.2v3.2h-3.2zM193.92 407.88h3.2v3.2h-3.2zM193.82 408.9h3.2v3.2h-3.2zM194.62 413.63h3.2v3.2h-3.2zM194.51 410.84h3.2v3.2h-3.2zM194.61 414.74h3.2v3.2h-3.2zM195.13 410.24h3.2v3.2h-3.2zM194.89 408.17h3.2v3.2h-3.2zM195.08 410.12h3.2v3.2h-3.2zM195.54 415.59h3.2v3.2h-3.2zM195.36 412.17h3.2v3.2h-3.2zM195.43 411.8h3.2v3.2h-3.2zM195.64 411.65h3.2v3.2h-3.2zM195.9 411.2h3.2v3.2h-3.2zM195.61 412.17h3.2v3.2h-3.2zM196.28 417.63h3.2v3.2h-3.2zM196.39 409.99h3.2v3.2h-3.2zM196.16 406.76h3.2v3.2h-3.2zM196.85 410.42h3.2v3.2h-3.2zM197.01 412.53h3.2v3.2h-3.2zM196.77 412.74h3.2v3.2h-3.2zM197.05 412.83h3.2v3.2h-3.2zM197.51 415.35h3.2v3.2h-3.2zM197.3 409.82h3.2v3.2h-3.2zM197.89 409.03h3.2v3.2h-3.2zM197.67 417.57h3.2v3.2h-3.2zM197.83 415.49h3.2v3.2h-3.2zM198.71 415.58h3.2v3.2h-3.2zM198.38 411.11h3.2v3.2h-3.2zM198.21 416.59h3.2v3.2h-3.2zM199.2 406.72h3.2v3.2h-3.2zM198.62 412.86h3.2v3.2h-3.2zM198.59 411.77h3.2v3.2h-3.2zM199.49 414.48h3.2v3.2h-3.2zM199.48 415.99h3.2v3.2h-3.2zM199.13 407.09h3.2v3.2h-3.2zM199.87 412.6h3.2v3.2h-3.2zM200.07 412.18h3.2v3.2h-3.2zM200.17 412.85h3.2v3.2h-3.2zM200.31 418.31h3.2v3.2h-3.2zM200.6 412.37h3.2v3.2h-3.2zM200.4 417.42h3.2v3.2h-3.2zM200.87 412.25h3.2v3.2h-3.2zM200.65 413.11h3.2v3.2h-3.2zM200.51 410.06h3.2v3.2h-3.2zM201.74 415.46h3.2v3.2h-3.2zM201.18 408.85h3.2v3.2h-3.2zM201.06 406.65h3.2v3.2h-3.2zM201.53 409.83h3.2v3.2h-3.2zM201.58 411.66h3.2v3.2h-3.2zM201.76 412.38h3.2v3.2h-3.2zM202.04 408.04h3.2v3.2h-3.2zM202.77 409.6h3.2v3.2h-3.2zM202.1 417.28h3.2v3.2h-3.2zM202.98 411.46h3.2v3.2h-3.2zM202.6 407.18h3.2v3.2h-3.2zM203.19 413.13h3.2v3.2h-3.2zM203.21 417.39h3.2v3.2h-3.2zM203.63 416.01h3.2v3.2h-3.2zM203.49 416.4h3.2v3.2h-3.2zM203.91 413.04h3.2v3.2h-3.2zM204.02 406.4h3.2v3.2h-3.2zM203.7 405.94h3.2v3.2h-3.2zM204.46 409.56h3.2v3.2h-3.2zM204.68 408.03h3.2v3.2h-3.2zM204.46 409.71h3.2v3.2h-3.2zM204.76 406.79h3.2v3.2h-3.2zM204.52 410.87h3.2v3.2h-3.2zM204.98 411.35h3.2v3.2h-3.2zM205.2 412.87h3.2v3.2h-3.2zM205.18 411.25h3.2v3.2h-3.2zM205.28 414.71h3.2v3.2h-3.2zM205.7 416h3.2v3.2h-3.2zM205.52 404.8h3.2v3.2h-3.2zM205.77 415.39h3.2v3.2h-3.2zM206.63 406.82h3.2v3.2h-3.2zM206.08 412.57h3.2v3.2h-3.2zM206.03 407.45h3.2v3.2h-3.2zM207.23 414.66h3.2v3.2h-3.2zM206.73 409.99h3.2v3.2h-3.2zM206.89 409.94h3.2v3.2h-3.2zM207.41 406.67h3.2v3.2h-3.2zM207.61 409.85h3.2v3.2h-3.2zM207.48 412.99h3.2v3.2h-3.2zM208.17 404.72h3.2v3.2h-3.2zM208.22 404.71h3.2v3.2h-3.2zM208.07 410.29h3.2v3.2h-3.2zM208.07 411.97h3.2v3.2h-3.2zM208.27 409.67h3.2v3.2h-3.2zM208.56 405.62h3.2v3.2h-3.2zM208.99 410.77h3.2v3.2h-3.2zM208.96 414.97h3.2v3.2h-3.2zM208.62 405.82h3.2v3.2h-3.2zM209.72 412.01h3.2v3.2h-3.2zM209.7 413.43h3.2v3.2h-3.2zM209.39 410.56h3.2v3.2h-3.2zM209.93 406.13h3.2v3.2h-3.2zM209.76 415.87h3.2v3.2h-3.2zM209.87 412.66h3.2v3.2h-3.2zM210.13 413.36h3.2v3.2h-3.2zM210.05 410.44h3.2v3.2h-3.2zM210.21 407.76h3.2v3.2h-3.2zM211.2 405.89h3.2v3.2h-3.2zM211 413.99h3.2v3.2h-3.2zM210.92 410.71h3.2v3.2h-3.2zM211.68 405.88h3.2v3.2h-3.2zM211.57 411.66h3.2v3.2h-3.2zM211.44 410.67h3.2v3.2h-3.2zM212.23 405.43h3.2v3.2h-3.2zM212.18 413.35h3.2v3.2h-3.2zM212.02 408.57h3.2v3.2h-3.2zM212.43 408.03h3.2v3.2h-3.2zM212.2 414h3.2v3.2h-3.2zM212.06 409.78h3.2v3.2h-3.2zM213.2 410.71h3.2v3.2h-3.2zM213.05 404.96h3.2v3.2h-3.2zM212.71 411.32h3.2v3.2h-3.2zM213.72 408.31h3.2v3.2h-3.2zM213.41 417.37h3.2v3.2h-3.2zM213.06 404.9h3.2v3.2h-3.2zM213.72 413.54h3.2v3.2h-3.2zM214.18 415.58h3.2v3.2h-3.2zM214.26 414.67h3.2v3.2h-3.2zM214.42 409.91h3.2v3.2h-3.2zM214.26 415.05h3.2v3.2h-3.2zM214.52 405.07h3.2v3.2h-3.2zM214.79 406.12h3.2v3.2h-3.2zM214.66 410.79h3.2v3.2h-3.2zM214.95 412.7h3.2v3.2h-3.2zM215.66 414.69h3.2v3.2h-3.2zM215.57 415.05h3.2v3.2h-3.2zM215.65 412.22h3.2v3.2h-3.2zM215.76 408.33h3.2v3.2h-3.2zM215.73 415.82h3.2v3.2h-3.2zM215.55 417.3h3.2v3.2h-3.2zM216.31 417.26h3.2v3.2h-3.2zM216.5 416.2h3.2v3.2h-3.2zM216.77 411.58h3.2v3.2h-3.2zM216.62 412.82h3.2v3.2h-3.2zM216.85 413.11h3.2v3.2h-3.2zM216.61 408.48h3.2v3.2h-3.2zM217.21 415.53h3.2v3.2h-3.2zM217.35 413.39h3.2v3.2h-3.2zM217.42 413.36h3.2v3.2h-3.2zM217.94 411.15h3.2v3.2h-3.2zM217.53 412.73h3.2v3.2h-3.2zM218.24 415.9h3.2v3.2h-3.2zM218.22 413.44h3.2v3.2h-3.2zM218.57 416.52h3.2v3.2h-3.2zM218.45 413.21h3.2v3.2h-3.2zM218.59 414.72h3.2v3.2h-3.2zM218.65 412.22h3.2v3.2h-3.2zM219.23 416.79h3.2v3.2h-3.2zM219.55 411.71h3.2v3.2h-3.2zM219.65 415.9h3.2v3.2h-3.2zM219.49 416.93h3.2v3.2h-3.2zM220.26 411.08h3.2v3.2h-3.2zM219.57 414.01h3.2v3.2h-3.2zM219.8 418.17h3.2v3.2h-3.2zM220.1 412.3h3.2v3.2h-3.2zM220.76 417.12h3.2v3.2h-3.2zM220.76 420.18h3.2v3.2h-3.2zM221.2 411.46h3.2v3.2h-3.2zM220.85 416.94h3.2v3.2h-3.2zM220.94 414.79h3.2v3.2h-3.2zM221.7 420.06h3.2v3.2h-3.2zM221.22 413.3h3.2v3.2h-3.2zM221.52 419.6h3.2v3.2h-3.2zM221.92 411.06h3.2v3.2h-3.2zM221.65 419.35h3.2v3.2h-3.2zM221.69 413.59h3.2v3.2h-3.2zM222.4 410.93h3.2v3.2h-3.2zM222.75 411.28h3.2v3.2h-3.2zM222.34 414.54h3.2v3.2h-3.2zM222.78 420.42h3.2v3.2h-3.2zM223.25 413.29h3.2v3.2h-3.2zM222.98 419.92h3.2v3.2h-3.2zM223.13 410.38h3.2v3.2h-3.2zM223.13 408.89h3.2v3.2h-3.2zM223.79 417.69h3.2v3.2h-3.2zM223.89 410.11h3.2v3.2h-3.2zM223.88 420.78h3.2v3.2h-3.2zM223.56 412.52h3.2v3.2h-3.2zM224.55 418.16h3.2v3.2h-3.2zM224.76 417.12h3.2v3.2h-3.2zM224.32 413.15h3.2v3.2h-3.2zM224.71 419.87h3.2v3.2h-3.2zM225.26 421.82h3.2v3.2h-3.2zM225.04 414.14h3.2v3.2h-3.2zM225.64 415.81h3.2v3.2h-3.2zM225.7 418.71h3.2v3.2h-3.2zM225.08 415.83h3.2v3.2h-3.2zM225.61 422.07h3.2v3.2h-3.2zM225.83 420.12h3.2v3.2h-3.2zM226.26 417.73h3.2v3.2h-3.2zM226.55 415.44h3.2v3.2h-3.2zM226.74 410.41h3.2v3.2h-3.2zM226.28 419.73h3.2v3.2h-3.2zM227.19 416.87h3.2v3.2h-3.2zM227.15 411.71h3.2v3.2h-3.2zM226.65 416.01h3.2v3.2h-3.2zM227.24 419.51h3.2v3.2h-3.2zM227.34 421.46h3.2v3.2h-3.2zM227.56 412.51h3.2v3.2h-3.2zM227.73 423.93h3.2v3.2h-3.2zM227.67 417.11h3.2v3.2h-3.2zM227.62 410.88h3.2v3.2h-3.2zM228.41 411.1h3.2v3.2h-3.2zM228.72 412.82h3.2v3.2h-3.2zM228.48 416.31h3.2v3.2h-3.2zM228.94 418.94h3.2v3.2h-3.2zM228.99 414.14h3.2v3.2h-3.2zM228.65 422.65h3.2v3.2h-3.2zM229.33 421.41h3.2v3.2h-3.2zM229.7 414.05h3.2v3.2h-3.2zM229.61 417.91h3.2v3.2h-3.2zM229.92 415.54h3.2v3.2h-3.2zM230.17 419.33h3.2v3.2h-3.2zM230.18 412.77h3.2v3.2h-3.2zM230.16 424.79h3.2v3.2h-3.2zM230.13 411.51h3.2v3.2h-3.2zM230.29 411.49h3.2v3.2h-3.2zM230.89 415.24h3.2v3.2h-3.2zM230.64 423.7h3.2v3.2h-3.2zM230.95 423.05h3.2v3.2h-3.2zM231.16 414.61h3.2v3.2h-3.2zM231.61 418.42h3.2v3.2h-3.2zM231.07 417.89h3.2v3.2h-3.2zM232.06 418.57h3.2v3.2h-3.2zM231.97 415.5h3.2v3.2h-3.2zM232.1 411.89h3.2v3.2h-3.2zM232.26 417.26h3.2v3.2h-3.2zM232.6 416.24h3.2v3.2h-3.2zM232.21 410.23h3.2v3.2h-3.2zM233.22 412h3.2v3.2h-3.2zM233.09 414.22h3.2v3.2h-3.2zM232.51 412.89h3.2v3.2h-3.2zM233.4 410.41h3.2v3.2h-3.2zM233.73 418.72h3.2v3.2h-3.2zM233.65 418h3.2v3.2h-3.2zM234.21 419.16h3.2v3.2h-3.2zM233.7 409.41h3.2v3.2h-3.2zM233.87 420.53h3.2v3.2h-3.2zM234.46 423.83h3.2v3.2h-3.2zM234.32 419.71h3.2v3.2h-3.2zM234.17 415.95h3.2v3.2h-3.2zM235.05 420.85h3.2v3.2h-3.2zM235.03 415.55h3.2v3.2h-3.2zM235.28 407.62h3.2v3.2h-3.2zM235.66 410.15h3.2v3.2h-3.2zM235.64 409.53h3.2v3.2h-3.2zM235.75 421.2h3.2v3.2h-3.2zM236.04 421.67h3.2v3.2h-3.2zM235.58 412.62h3.2v3.2h-3.2zM236.27 420.12h3.2v3.2h-3.2zM236.42 418.71h3.2v3.2h-3.2zM236.63 411.65h3.2v3.2h-3.2zM236.27 417.27h3.2v3.2h-3.2zM236.61 419.17h3.2v3.2h-3.2zM236.51 413.46h3.2v3.2h-3.2zM236.61 411.22h3.2v3.2h-3.2zM237.25 419.48h3.2v3.2h-3.2zM237.49 417.25h3.2v3.2h-3.2zM237.21 415.59h3.2v3.2h-3.2zM238.02 416.13h3.2v3.2h-3.2zM237.65 421.13h3.2v3.2h-3.2zM237.91 422.3h3.2v3.2h-3.2zM238.62 418.07h3.2v3.2h-3.2zM238.38 418.85h3.2v3.2h-3.2zM238.32 414.63h3.2v3.2h-3.2zM238.73 417.45h3.2v3.2h-3.2zM238.59 414.48h3.2v3.2h-3.2zM238.6 419.92h3.2v3.2h-3.2zM238.6 427.9h3.2v3.2h-3.2z" fill="#0672c2" clip-path="url(#cb)"/>
<rect x="344.3" y="265.2" width="196.6" height="169" fill="none" stroke="#939393" stroke-width="1.1"/>
<line x1="393.45" y1="434.2" x2="393.45" y2="431.7" stroke="#777" stroke-width="1"/>
<line x1="393.45" y1="265.2" x2="393.45" y2="267.7" stroke="#777" stroke-width="1"/>
<line x1="442.6" y1="434.2" x2="442.6" y2="431.7" stroke="#777" stroke-width="1"/>
<line x1="442.6" y1="265.2" x2="442.6" y2="267.7" stroke="#777" stroke-width="1"/>
<line x1="491.75" y1="434.2" x2="491.75" y2="431.7" stroke="#777" stroke-width="1"/>
<line x1="491.75" y1="265.2" x2="491.75" y2="267.7" stroke="#777" stroke-width="1"/>
<line x1="344.3" y1="406.03" x2="346.8" y2="406.03" stroke="#777" stroke-width="1"/>
<line x1="540.9" y1="406.03" x2="538.4" y2="406.03" stroke="#777" stroke-width="1"/>
<line x1="344.3" y1="377.86" x2="346.8" y2="377.86" stroke="#777" stroke-width="1"/>
<line x1="540.9" y1="377.86" x2="538.4" y2="377.86" stroke="#777" stroke-width="1"/>
<line x1="344.3" y1="349.69" x2="346.8" y2="349.69" stroke="#777" stroke-width="1"/>
<line x1="540.9" y1="349.69" x2="538.4" y2="349.69" stroke="#777" stroke-width="1"/>
<line x1="344.3" y1="321.52" x2="346.8" y2="321.52" stroke="#777" stroke-width="1"/>
<line x1="540.9" y1="321.52" x2="538.4" y2="321.52" stroke="#777" stroke-width="1"/>
<line x1="344.3" y1="293.35" x2="346.8" y2="293.35" stroke="#777" stroke-width="1"/>
<line x1="540.9" y1="293.35" x2="538.4" y2="293.35" stroke="#777" stroke-width="1"/>
<path d="M342.09 428.83h3.2v3.2h-3.2zM341.5 423.88h3.2v3.2h-3.2zM341.68 422.91h3.2v3.2h-3.2zM341.87 422.84h3.2v3.2h-3.2zM342.44 422.83h3.2v3.2h-3.2zM342.47 429.08h3.2v3.2h-3.2zM342.34 428.36h3.2v3.2h-3.2zM343.03 429.59h3.2v3.2h-3.2zM342.82 420.84h3.2v3.2h-3.2zM343.18 427.18h3.2v3.2h-3.2zM343.3 422.24h3.2v3.2h-3.2zM342.85 427.38h3.2v3.2h-3.2zM343.69 425.99h3.2v3.2h-3.2zM343.52 428.7h3.2v3.2h-3.2zM343.3 426.01h3.2v3.2h-3.2zM344.21 427.05h3.2v3.2h-3.2zM344.17 425.53h3.2v3.2h-3.2zM344.5 424.7h3.2v3.2h-3.2zM344.51 425.57h3.2v3.2h-3.2zM344.69 421.73h3.2v3.2h-3.2zM344.89 421.53h3.2v3.2h-3.2zM345.3 427.19h3.2v3.2h-3.2zM345.5 427.53h3.2v3.2h-3.2zM344.92 425.98h3.2v3.2h-3.2zM345.88 421.5h3.2v3.2h-3.2zM345.91 426.78h3.2v3.2h-3.2zM345.31 419.81h3.2v3.2h-3.2zM345.91 418.83h3.2v3.2h-3.2zM346 423.83h3.2v3.2h-3.2zM345.82 424.17h3.2v3.2h-3.2zM346.51 426.52h3.2v3.2h-3.2zM347.07 424.6h3.2v3.2h-3.2zM346.34 424.14h3.2v3.2h-3.2zM347.27 427.47h3.2v3.2h-3.2zM347.4 417.14h3.2v3.2h-3.2zM346.94 425.54h3.2v3.2h-3.2zM347.45 422.84h3.2v3.2h-3.2zM347.93 418.72h3.2v3.2h-3.2zM347.43 419.94h3.2v3.2h-3.2zM348.43 425.9h3.2v3.2h-3.2zM348.07 422.95h3.2v3.2h-3.2zM348.38 417.29h3.2v3.2h-3.2zM348.47 419.04h3.2v3.2h-3.2zM348.42 425.58h3.2v3.2h-3.2zM348.51 421.64h3.2v3.2h-3.2zM348.83 423.98h3.2v3.2h-3.2zM348.81 423.52h3.2v3.2h-3.2zM349.09 425.63h3.2v3.2h-3.2zM349.71 425.84h3.2v3.2h-3.2zM349.33 424.11h3.2v3.2h-3.2zM349.57 421.66h3.2v3.2h-3.2zM350.51 419h3.2v3.2h-3.2zM349.9 420.61h3.2v3.2h-3.2zM350.42 421.26h3.2v3.2h-3.2zM350.82 426.09h3.2v3.2h-3.2zM350.76 419.16h3.2v3.2h-3.2zM350.83 419.82h3.2v3.2h-3.2zM351.6 423.6h3.2v3.2h-3.2zM350.95 421.52h3.2v3.2h-3.2zM351.38 415.61h3.2v3.2h-3.2zM351.81 419.37h3.2v3.2h-3.2zM351.92 425.1h3.2v3.2h-3.2zM351.73 412.95h3.2v3.2h-3.2zM351.86 421.74h3.2v3.2h-3.2zM351.89 419.32h3.2v3.2h-3.2zM352.07 425.16h3.2v3.2h-3.2zM352.87 414.7h3.2v3.2h-3.2zM353.06 425.73h3.2v3.2h-3.2zM352.3 417.89h3.2v3.2h-3.2zM352.89 413.23h3.2v3.2h-3.2zM353.22 415.78h3.2v3.2h-3.2zM353.34 411.68h3.2v3.2h-3.2zM354.1 418.1h3.2v3.2h-3.2zM353.36 411.51h3.2v3.2h-3.2zM353.92 419.22h3.2v3.2h-3.2zM354.37 416.84h3.2v3.2h-3.2zM354.15 420.59h3.2v3.2h-3.2zM354.25 419.41h3.2v3.2h-3.2zM354.7 426.84h3.2v3.2h-3.2zM354.89 423.55h3.2v3.2h-3.2zM354.46 418.32h3.2v3.2h-3.2zM355.08 416.69h3.2v3.2h-3.2zM354.87 426.35h3.2v3.2h-3.2zM355.29 426.15h3.2v3.2h-3.2zM355.33 420.13h3.2v3.2h-3.2zM355.92 424.23h3.2v3.2h-3.2zM355.72 416.46h3.2v3.2h-3.2zM356.58 415.7h3.2v3.2h-3.2zM356.57 416.57h3.2v3.2h-3.2zM356.13 421.47h3.2v3.2h-3.2zM356.44 414.29h3.2v3.2h-3.2zM357 423.18h3.2v3.2h-3.2zM357.02 419.56h3.2v3.2h-3.2zM357.05 416.32h3.2v3.2h-3.2zM357.07 420.34h3.2v3.2h-3.2zM357.59 417.99h3.2v3.2h-3.2zM357.72 422.92h3.2v3.2h-3.2zM357.93 419.19h3.2v3.2h-3.2zM358.04 418.45h3.2v3.2h-3.2zM358.17 418.5h3.2v3.2h-3.2zM358.58 414.8h3.2v3.2h-3.2zM358.15 417.21h3.2v3.2h-3.2zM358.81 415.95h3.2v3.2h-3.2zM358.77 420.17h3.2v3.2h-3.2zM358.31 417.98h3.2v3.2h-3.2zM350.33 430.91h3.2v3.2h-3.2zM355.72 430.95h3.2v3.2h-3.2zM359.02 411.37h3.2v3.2h-3.2zM359.46 407.21h3.2v3.2h-3.2zM359.5 402.93h3.2v3.2h-3.2zM359.87 398.61h3.2v3.2h-3.2zM359.66 394.16h3.2v3.2h-3.2zM359.32 387.74h3.2v3.2h-3.2zM359.6 382.94h3.2v3.2h-3.2zM359.7 383.19h3.2v3.2h-3.2zM359.61 383.28h3.2v3.2h-3.2zM359.77 380.94h3.2v3.2h-3.2zM359.75 379.92h3.2v3.2h-3.2zM360.78 385.95h3.2v3.2h-3.2zM360.39 387.46h3.2v3.2h-3.2zM360.19 380.74h3.2v3.2h-3.2zM360.55 379.74h3.2v3.2h-3.2zM360.88 389.13h3.2v3.2h-3.2zM360.67 389.55h3.2v3.2h-3.2zM361.41 385.69h3.2v3.2h-3.2zM361.25 387.54h3.2v3.2h-3.2zM361.04 386.2h3.2v3.2h-3.2zM362.17 387.47h3.2v3.2h-3.2zM361.96 386.54h3.2v3.2h-3.2zM362.14 385.65h3.2v3.2h-3.2zM362.74 389.92h3.2v3.2h-3.2zM362.76 390.06h3.2v3.2h-3.2zM362.48 386.13h3.2v3.2h-3.2zM362.6 387.94h3.2v3.2h-3.2zM362.71 385.77h3.2v3.2h-3.2zM363.1 389.51h3.2v3.2h-3.2zM363.29 384.63h3.2v3.2h-3.2zM363.24 388.41h3.2v3.2h-3.2zM363.01 387.63h3.2v3.2h-3.2zM364.08 382.62h3.2v3.2h-3.2zM364.18 382.52h3.2v3.2h-3.2zM363.85 380.46h3.2v3.2h-3.2zM364.24 384.37h3.2v3.2h-3.2zM364.57 378.83h3.2v3.2h-3.2zM364.69 386.35h3.2v3.2h-3.2zM364.92 379.18h3.2v3.2h-3.2zM364.5 381.49h3.2v3.2h-3.2zM365.21 379.38h3.2v3.2h-3.2zM365.67 384.88h3.2v3.2h-3.2zM365.55 386.38h3.2v3.2h-3.2zM365.66 389.47h3.2v3.2h-3.2zM366.1 387.36h3.2v3.2h-3.2zM366.13 383.43h3.2v3.2h-3.2zM365.95 380.16h3.2v3.2h-3.2zM366.31 385.73h3.2v3.2h-3.2zM366.3 386.35h3.2v3.2h-3.2zM366.67 385.07h3.2v3.2h-3.2zM366.62 383.37h3.2v3.2h-3.2zM367.08 388.49h3.2v3.2h-3.2zM366.96 383.07h3.2v3.2h-3.2zM367.02 385.88h3.2v3.2h-3.2zM367.52 382.57h3.2v3.2h-3.2zM367.22 381.87h3.2v3.2h-3.2zM368 384.86h3.2v3.2h-3.2zM367.89 381.38h3.2v3.2h-3.2zM367.78 386.79h3.2v3.2h-3.2zM368.36 387.96h3.2v3.2h-3.2zM368.3 383.97h3.2v3.2h-3.2zM368.5 381.97h3.2v3.2h-3.2zM368.73 388.39h3.2v3.2h-3.2zM369.26 384.95h3.2v3.2h-3.2zM368.68 388.89h3.2v3.2h-3.2zM369.71 382.08h3.2v3.2h-3.2zM369.25 379.49h3.2v3.2h-3.2zM369.29 380.62h3.2v3.2h-3.2zM370.01 388.38h3.2v3.2h-3.2zM370.21 380.84h3.2v3.2h-3.2zM369.63 387.55h3.2v3.2h-3.2zM370.49 386.43h3.2v3.2h-3.2zM370.64 378.2h3.2v3.2h-3.2zM370.8 386.73h3.2v3.2h-3.2zM371.27 381.11h3.2v3.2h-3.2zM371.3 381.5h3.2v3.2h-3.2zM370.75 382.18h3.2v3.2h-3.2zM371.32 382.33h3.2v3.2h-3.2zM371.78 381.83h3.2v3.2h-3.2zM371.66 385.34h3.2v3.2h-3.2zM371.51 382.94h3.2v3.2h-3.2zM371.5 382.88h3.2v3.2h-3.2zM372.25 388.92h3.2v3.2h-3.2zM372.54 386.26h3.2v3.2h-3.2zM372.67 382.36h3.2v3.2h-3.2zM372.45 385.97h3.2v3.2h-3.2zM373.09 382.38h3.2v3.2h-3.2zM373.12 385.61h3.2v3.2h-3.2zM372.8 381.14h3.2v3.2h-3.2zM373.28 386.57h3.2v3.2h-3.2zM373.03 382h3.2v3.2h-3.2zM373.05 383.48h3.2v3.2h-3.2zM374.08 389.45h3.2v3.2h-3.2zM373.59 386.12h3.2v3.2h-3.2zM374.08 387.5h3.2v3.2h-3.2zM374.39 382.63h3.2v3.2h-3.2zM374.5 381.88h3.2v3.2h-3.2zM374.14 388.69h3.2v3.2h-3.2zM375.09 383.88h3.2v3.2h-3.2zM374.8 380.44h3.2v3.2h-3.2zM375.01 386.03h3.2v3.2h-3.2zM375.42 376.62h3.2v3.2h-3.2zM375.71 384.32h3.2v3.2h-3.2zM375.31 381.2h3.2v3.2h-3.2zM375.79 380.83h3.2v3.2h-3.2zM376.18 380.6h3.2v3.2h-3.2zM376.13 377.45h3.2v3.2h-3.2zM376.7 379.19h3.2v3.2h-3.2zM376.18 380.09h3.2v3.2h-3.2zM376.51 378.65h3.2v3.2h-3.2zM376.96 379.21h3.2v3.2h-3.2zM376.76 377.81h3.2v3.2h-3.2zM376.79 378.6h3.2v3.2h-3.2zM377.44 385.34h3.2v3.2h-3.2zM377.44 382.01h3.2v3.2h-3.2zM377.49 386.84h3.2v3.2h-3.2zM377.51 384.03h3.2v3.2h-3.2zM377.96 381.44h3.2v3.2h-3.2zM378.18 383.41h3.2v3.2h-3.2zM378.21 376.65h3.2v3.2h-3.2zM378.14 380.93h3.2v3.2h-3.2zM378.51 378.84h3.2v3.2h-3.2zM379.08 381.43h3.2v3.2h-3.2zM378.55 382.32h3.2v3.2h-3.2zM378.63 384.07h3.2v3.2h-3.2zM379.7 377.7h3.2v3.2h-3.2zM379.51 383.99h3.2v3.2h-3.2zM379.52 381.5h3.2v3.2h-3.2zM379.82 383.02h3.2v3.2h-3.2zM379.78 381.83h3.2v3.2h-3.2zM379.67 379.98h3.2v3.2h-3.2zM380.23 377.76h3.2v3.2h-3.2zM380.09 380.67h3.2v3.2h-3.2zM380.52 379.99h3.2v3.2h-3.2zM380.76 378.41h3.2v3.2h-3.2zM381.13 383.13h3.2v3.2h-3.2zM380.66 379.58h3.2v3.2h-3.2zM381.16 376.53h3.2v3.2h-3.2zM381.39 381.69h3.2v3.2h-3.2zM381.41 376.26h3.2v3.2h-3.2zM381.7 381.5h3.2v3.2h-3.2zM382.08 383.75h3.2v3.2h-3.2zM381.56 379.61h3.2v3.2h-3.2zM382.55 375.55h3.2v3.2h-3.2zM382.33 378.4h3.2v3.2h-3.2zM382.26 382.54h3.2v3.2h-3.2zM383.06 377.61h3.2v3.2h-3.2zM382.9 380.58h3.2v3.2h-3.2zM382.51 378.36h3.2v3.2h-3.2zM383.45 374.97h3.2v3.2h-3.2zM383.5 380.11h3.2v3.2h-3.2zM383.27 381.64h3.2v3.2h-3.2zM383.64 373.27h3.2v3.2h-3.2zM383.87 378.16h3.2v3.2h-3.2zM383.7 372.9h3.2v3.2h-3.2zM384.13 374.72h3.2v3.2h-3.2zM384.59 377.63h3.2v3.2h-3.2zM384.06 381.47h3.2v3.2h-3.2zM384.89 379.2h3.2v3.2h-3.2zM385.08 381.48h3.2v3.2h-3.2zM385.18 381.63h3.2v3.2h-3.2zM385.2 380.14h3.2v3.2h-3.2zM385.11 372.88h3.2v3.2h-3.2zM385.28 380.85h3.2v3.2h-3.2zM385.79 376.63h3.2v3.2h-3.2zM385.84 375.26h3.2v3.2h-3.2zM385.54 381.78h3.2v3.2h-3.2zM386.23 379.62h3.2v3.2h-3.2zM386.79 380.07h3.2v3.2h-3.2zM386.74 377.36h3.2v3.2h-3.2zM386.52 378.05h3.2v3.2h-3.2zM386.65 377.69h3.2v3.2h-3.2zM386.94 372.24h3.2v3.2h-3.2zM387.59 375.51h3.2v3.2h-3.2zM387.34 375.64h3.2v3.2h-3.2zM387.71 377.32h3.2v3.2h-3.2zM388.02 377.28h3.2v3.2h-3.2zM388 378.48h3.2v3.2h-3.2zM388.26 378.64h3.2v3.2h-3.2zM388.24 372.14h3.2v3.2h-3.2zM388.39 378.75h3.2v3.2h-3.2zM388.24 375.02h3.2v3.2h-3.2zM389.21 375.09h3.2v3.2h-3.2zM388.54 376.83h3.2v3.2h-3.2zM388.59 371.72h3.2v3.2h-3.2zM389.67 372.05h3.2v3.2h-3.2zM389.43 375.58h3.2v3.2h-3.2zM389.49 377.92h3.2v3.2h-3.2zM390.03 367.74h3.2v3.2h-3.2zM390.05 369.41h3.2v3.2h-3.2zM390.3 369.07h3.2v3.2h-3.2zM390.66 374.66h3.2v3.2h-3.2zM390.07 375.93h3.2v3.2h-3.2zM390.29 370.7h3.2v3.2h-3.2zM390.58 366.78h3.2v3.2h-3.2zM391.25 373.14h3.2v3.2h-3.2zM391.01 366.41h3.2v3.2h-3.2zM391.15 371h3.2v3.2h-3.2zM391.49 370.26h3.2v3.2h-3.2zM391.7 367.89h3.2v3.2h-3.2zM391.5 370.46h3.2v3.2h-3.2zM391.86 366.43h3.2v3.2h-3.2zM391.54 368.27h3.2v3.2h-3.2zM392.25 372.56h3.2v3.2h-3.2zM392.42 365.31h3.2v3.2h-3.2zM392.68 372.48h3.2v3.2h-3.2zM393.04 364.35h3.2v3.2h-3.2zM392.54 365.28h3.2v3.2h-3.2zM392.83 364.48h3.2v3.2h-3.2zM393.3 363.85h3.2v3.2h-3.2zM393.56 369.97h3.2v3.2h-3.2zM393.73 364.47h3.2v3.2h-3.2zM393.52 368.16h3.2v3.2h-3.2zM393.92 368.91h3.2v3.2h-3.2zM393.98 370.39h3.2v3.2h-3.2zM394.12 368.34h3.2v3.2h-3.2zM394.45 368.76h3.2v3.2h-3.2zM394.2 368.6h3.2v3.2h-3.2zM394.75 364.57h3.2v3.2h-3.2zM395.28 369.42h3.2v3.2h-3.2zM394.8 368.91h3.2v3.2h-3.2zM395.72 367.04h3.2v3.2h-3.2zM395.12 362.8h3.2v3.2h-3.2zM395.04 362.47h3.2v3.2h-3.2zM395.94 363.58h3.2v3.2h-3.2zM395.76 365.37h3.2v3.2h-3.2zM396.18 361.24h3.2v3.2h-3.2zM396.7 362.9h3.2v3.2h-3.2zM396.77 366.32h3.2v3.2h-3.2zM396.61 363.05h3.2v3.2h-3.2zM396.58 363.68h3.2v3.2h-3.2zM396.97 366.3h3.2v3.2h-3.2zM396.82 362.85h3.2v3.2h-3.2zM397.07 364.54h3.2v3.2h-3.2zM397.15 359.77h3.2v3.2h-3.2zM397.18 365.23h3.2v3.2h-3.2zM397.51 363.25h3.2v3.2h-3.2zM398.1 360.6h3.2v3.2h-3.2zM397.83 360.34h3.2v3.2h-3.2zM398.19 360.65h3.2v3.2h-3.2zM398.4 361.26h3.2v3.2h-3.2zM398.46 358.18h3.2v3.2h-3.2zM398.65 361.71h3.2v3.2h-3.2zM399.23 364.46h3.2v3.2h-3.2zM398.94 357.66h3.2v3.2h-3.2zM399.05 363.55h3.2v3.2h-3.2zM399.48 358.5h3.2v3.2h-3.2zM399.26 362.6h3.2v3.2h-3.2zM399.77 363.62h3.2v3.2h-3.2zM399.87 362.08h3.2v3.2h-3.2zM400.01 362.75h3.2v3.2h-3.2zM400.22 358.85h3.2v3.2h-3.2zM400.73 362.09h3.2v3.2h-3.2zM400.65 359.73h3.2v3.2h-3.2zM400.52 360.97h3.2v3.2h-3.2zM400.87 359.11h3.2v3.2h-3.2zM400.93 363.75h3.2v3.2h-3.2zM401.04 361.02h3.2v3.2h-3.2zM401.46 364.15h3.2v3.2h-3.2zM401.37 360.15h3.2v3.2h-3.2zM401.56 362.89h3.2v3.2h-3.2zM401.68 365.06h3.2v3.2h-3.2zM401.89 360.14h3.2v3.2h-3.2zM402.21 362.61h3.2v3.2h-3.2zM402.71 360.98h3.2v3.2h-3.2zM402.06 364.12h3.2v3.2h-3.2zM403.01 361.23h3.2v3.2h-3.2zM403.05 358.34h3.2v3.2h-3.2zM403.18 358.87h3.2v3.2h-3.2zM403.31 361.18h3.2v3.2h-3.2zM403.55 361.17h3.2v3.2h-3.2zM403.37 365.7h3.2v3.2h-3.2zM403.64 361.49h3.2v3.2h-3.2zM404.23 362.55h3.2v3.2h-3.2zM403.95 361.49h3.2v3.2h-3.2zM404.66 365.06h3.2v3.2h-3.2zM404.11 363h3.2v3.2h-3.2zM404.52 364.5h3.2v3.2h-3.2zM405.29 363.03h3.2v3.2h-3.2zM405.17 364.44h3.2v3.2h-3.2zM405.26 364h3.2v3.2h-3.2zM405.04 363.33h3.2v3.2h-3.2zM405.48 366.38h3.2v3.2h-3.2zM405.02 363.54h3.2v3.2h-3.2zM405.99 364.17h3.2v3.2h-3.2zM405.59 366.41h3.2v3.2h-3.2zM405.87 359.54h3.2v3.2h-3.2zM406.04 367.51h3.2v3.2h-3.2zM406.46 362.06h3.2v3.2h-3.2zM406.51 361.25h3.2v3.2h-3.2zM406.73 361.94h3.2v3.2h-3.2zM406.72 367.24h3.2v3.2h-3.2zM407.14 366.01h3.2v3.2h-3.2zM407.48 367.9h3.2v3.2h-3.2zM407.43 363.49h3.2v3.2h-3.2zM407.38 362.72h3.2v3.2h-3.2zM407.51 368.18h3.2v3.2h-3.2zM407.6 363.5h3.2v3.2h-3.2zM407.93 364.6h3.2v3.2h-3.2zM408.48 366.9h3.2v3.2h-3.2zM408.09 365.01h3.2v3.2h-3.2zM408.7 369.73h3.2v3.2h-3.2zM409.06 362.59h3.2v3.2h-3.2zM408.85 362.96h3.2v3.2h-3.2zM408.62 363.66h3.2v3.2h-3.2zM409.1 368.78h3.2v3.2h-3.2zM409.35 364.93h3.2v3.2h-3.2zM409.59 359.86h3.2v3.2h-3.2zM409.57 355.96h3.2v3.2h-3.2zM410.25 365.67h3.2v3.2h-3.2zM410.16 367.16h3.2v3.2h-3.2zM410.53 354.46h3.2v3.2h-3.2zM410.36 363.36h3.2v3.2h-3.2zM410.11 367.84h3.2v3.2h-3.2zM410.85 368.05h3.2v3.2h-3.2zM410.89 354.86h3.2v3.2h-3.2zM410.7 358.99h3.2v3.2h-3.2zM411.19 356h3.2v3.2h-3.2zM411.33 364.59h3.2v3.2h-3.2zM411.66 359.61h3.2v3.2h-3.2zM412.09 358.34h3.2v3.2h-3.2zM412.29 360.96h3.2v3.2h-3.2zM411.82 363.9h3.2v3.2h-3.2zM412.15 364.49h3.2v3.2h-3.2zM412.52 359.95h3.2v3.2h-3.2zM412.18 350.8h3.2v3.2h-3.2zM412.74 357.47h3.2v3.2h-3.2zM412.75 357.57h3.2v3.2h-3.2zM412.77 359.34h3.2v3.2h-3.2zM413.58 363.27h3.2v3.2h-3.2zM413.31 358.63h3.2v3.2h-3.2zM413.26 350.98h3.2v3.2h-3.2zM414.06 357.39h3.2v3.2h-3.2zM414.07 349.26h3.2v3.2h-3.2zM413.91 348.8h3.2v3.2h-3.2zM414.35 355.29h3.2v3.2h-3.2zM414.58 361.4h3.2v3.2h-3.2zM414.41 365.15h3.2v3.2h-3.2zM415.25 354.69h3.2v3.2h-3.2zM414.95 361.95h3.2v3.2h-3.2zM415.24 346.16h3.2v3.2h-3.2zM415.23 343.97h3.2v3.2h-3.2zM415.03 350.82h3.2v3.2h-3.2zM415.2 355.74h3.2v3.2h-3.2zM415.56 350.23h3.2v3.2h-3.2zM415.82 339.81h3.2v3.2h-3.2zM415.79 350.68h3.2v3.2h-3.2zM416.19 346.22h3.2v3.2h-3.2zM416.78 347.32h3.2v3.2h-3.2zM416.53 345.04h3.2v3.2h-3.2zM417.05 344.98h3.2v3.2h-3.2zM416.67 347.81h3.2v3.2h-3.2zM416.85 351.81h3.2v3.2h-3.2zM417.2 340.66h3.2v3.2h-3.2zM417.19 343.72h3.2v3.2h-3.2zM417.33 346.85h3.2v3.2h-3.2zM417.51 343.03h3.2v3.2h-3.2zM417.74 351.77h3.2v3.2h-3.2zM417.93 353.36h3.2v3.2h-3.2zM418.65 352.83h3.2v3.2h-3.2zM418.04 353.78h3.2v3.2h-3.2zM418.44 334.75h3.2v3.2h-3.2zM422.5 331.4h3.2v3.2h-3.2zM422.77 335h3.2v3.2h-3.2zM422.38 339.9h3.2v3.2h-3.2zM422.69 344.4h3.2v3.2h-3.2zM422.53 348.4h3.2v3.2h-3.2zM422.31 351.9h3.2v3.2h-3.2zM422.82 355.6h3.2v3.2h-3.2zM425 345.1h3.2v3.2h-3.2zM427.5 342h3.2v3.2h-3.2zM431.2 338.3h3.2v3.2h-3.2zM434.3 334.5h3.2v3.2h-3.2zM436.2 330.8h3.2v3.2h-3.2zM436.86 331.54h3.2v3.2h-3.2zM437.06 326.06h3.2v3.2h-3.2zM436.79 327.69h3.2v3.2h-3.2zM437.12 331h3.2v3.2h-3.2zM437.18 331.94h3.2v3.2h-3.2zM437.62 325.85h3.2v3.2h-3.2zM437.84 330.7h3.2v3.2h-3.2zM437.71 328.25h3.2v3.2h-3.2zM438.22 332.25h3.2v3.2h-3.2zM438.67 325.11h3.2v3.2h-3.2zM438.02 326.67h3.2v3.2h-3.2zM438.17 328.7h3.2v3.2h-3.2zM439.2 323.8h3.2v3.2h-3.2zM438.96 326.18h3.2v3.2h-3.2zM439.07 324.98h3.2v3.2h-3.2zM439.73 324.53h3.2v3.2h-3.2zM439.18 325.34h3.2v3.2h-3.2zM439.24 326.21h3.2v3.2h-3.2zM439.83 322.22h3.2v3.2h-3.2zM439.97 322.95h3.2v3.2h-3.2zM439.99 326.31h3.2v3.2h-3.2zM440.47 327.4h3.2v3.2h-3.2zM440.35 327.07h3.2v3.2h-3.2zM440.57 322.18h3.2v3.2h-3.2zM440.8 324.32h3.2v3.2h-3.2zM440.93 320.52h3.2v3.2h-3.2zM440.52 326.26h3.2v3.2h-3.2zM441.11 325.95h3.2v3.2h-3.2zM441.18 323.23h3.2v3.2h-3.2zM441.12 326.81h3.2v3.2h-3.2zM441.66 322.89h3.2v3.2h-3.2zM441.78 318.89h3.2v3.2h-3.2zM442.21 321.41h3.2v3.2h-3.2zM442.73 322.01h3.2v3.2h-3.2zM442.15 319.83h3.2v3.2h-3.2zM442.29 322.94h3.2v3.2h-3.2zM443.02 320.94h3.2v3.2h-3.2zM443.19 324.4h3.2v3.2h-3.2zM442.84 319.39h3.2v3.2h-3.2zM443.72 324.33h3.2v3.2h-3.2zM443.78 319.33h3.2v3.2h-3.2zM443.28 323.02h3.2v3.2h-3.2zM444.23 320.26h3.2v3.2h-3.2zM444.12 319.83h3.2v3.2h-3.2zM443.85 322.35h3.2v3.2h-3.2zM444.21 319.81h3.2v3.2h-3.2zM444.46 323.92h3.2v3.2h-3.2zM444.66 318.17h3.2v3.2h-3.2zM444.85 320.28h3.2v3.2h-3.2zM445.16 320.94h3.2v3.2h-3.2zM444.59 323.3h3.2v3.2h-3.2zM445.25 319.25h3.2v3.2h-3.2zM445.29 319.43h3.2v3.2h-3.2zM445.02 322.07h3.2v3.2h-3.2zM445.93 321.33h3.2v3.2h-3.2zM446.28 319.67h3.2v3.2h-3.2zM446.28 323.58h3.2v3.2h-3.2zM446.13 320.57h3.2v3.2h-3.2zM446.44 319.48h3.2v3.2h-3.2zM446 323.95h3.2v3.2h-3.2zM446.98 319.03h3.2v3.2h-3.2zM446.99 322.29h3.2v3.2h-3.2zM446.95 322.79h3.2v3.2h-3.2zM447.54 321.72h3.2v3.2h-3.2zM447.28 320.5h3.2v3.2h-3.2zM447.44 319.97h3.2v3.2h-3.2zM447.83 320.55h3.2v3.2h-3.2zM447.94 322.95h3.2v3.2h-3.2zM448.15 320.91h3.2v3.2h-3.2zM448.17 320.5h3.2v3.2h-3.2zM448.03 319.71h3.2v3.2h-3.2zM448.09 320.69h3.2v3.2h-3.2zM449.14 321.24h3.2v3.2h-3.2zM448.94 321.45h3.2v3.2h-3.2zM448.8 319.89h3.2v3.2h-3.2zM449.2 322.72h3.2v3.2h-3.2zM449.33 322.46h3.2v3.2h-3.2zM449.63 320.06h3.2v3.2h-3.2zM449.5 318.14h3.2v3.2h-3.2zM450.22 319.08h3.2v3.2h-3.2zM450.21 318.21h3.2v3.2h-3.2zM450.17 317.52h3.2v3.2h-3.2zM450.4 320.01h3.2v3.2h-3.2zM450.33 318.27h3.2v3.2h-3.2zM450.77 319.3h3.2v3.2h-3.2zM451.24 319.08h3.2v3.2h-3.2zM451.03 318.68h3.2v3.2h-3.2zM451.8 318.3h3.2v3.2h-3.2zM451.78 316.84h3.2v3.2h-3.2zM451.24 318.92h3.2v3.2h-3.2zM451.7 317.28h3.2v3.2h-3.2zM451.58 317.51h3.2v3.2h-3.2zM451.66 318.27h3.2v3.2h-3.2zM452.33 317.44h3.2v3.2h-3.2zM452.04 317.86h3.2v3.2h-3.2zM452.74 315.93h3.2v3.2h-3.2zM453.02 316.34h3.2v3.2h-3.2zM452.57 318h3.2v3.2h-3.2zM453.12 316.39h3.2v3.2h-3.2zM453.71 314.86h3.2v3.2h-3.2zM453.23 316.56h3.2v3.2h-3.2zM453.02 315.64h3.2v3.2h-3.2zM454.25 316.6h3.2v3.2h-3.2zM454.2 316.98h3.2v3.2h-3.2zM453.75 316.83h3.2v3.2h-3.2zM454.69 314.68h3.2v3.2h-3.2zM454.38 315.94h3.2v3.2h-3.2zM454.5 316.51h3.2v3.2h-3.2zM454.81 316h3.2v3.2h-3.2zM454.78 315.06h3.2v3.2h-3.2zM455.3 316.49h3.2v3.2h-3.2zM455.34 315.7h3.2v3.2h-3.2zM455.23 316.34h3.2v3.2h-3.2zM455.13 314.96h3.2v3.2h-3.2zM456.3 312.8h3.2v3.2h-3.2zM456.1 314.89h3.2v3.2h-3.2zM455.92 314.5h3.2v3.2h-3.2zM456.53 312.74h3.2v3.2h-3.2zM456.7 312.45h3.2v3.2h-3.2zM456.62 313.99h3.2v3.2h-3.2zM456.68 313.2h3.2v3.2h-3.2zM456.51 312.24h3.2v3.2h-3.2zM457.03 311.58h3.2v3.2h-3.2zM457.07 311.1h3.2v3.2h-3.2zM457.35 311.41h3.2v3.2h-3.2zM457.55 311.45h3.2v3.2h-3.2zM457.86 309.36h3.2v3.2h-3.2zM457.58 310.86h3.2v3.2h-3.2zM458.09 310.47h3.2v3.2h-3.2zM458.51 307.55h3.2v3.2h-3.2zM458.15 307.63h3.2v3.2h-3.2zM458.61 309.25h3.2v3.2h-3.2zM458.97 307.23h3.2v3.2h-3.2zM458.74 307.05h3.2v3.2h-3.2zM459.27 307.37h3.2v3.2h-3.2zM459.52 305.15h3.2v3.2h-3.2zM459.31 306.5h3.2v3.2h-3.2zM459.34 306.26h3.2v3.2h-3.2zM459.72 304.82h3.2v3.2h-3.2zM460.03 305.54h3.2v3.2h-3.2zM460.04 305.12h3.2v3.2h-3.2zM460.72 304.49h3.2v3.2h-3.2zM460.52 304.64h3.2v3.2h-3.2zM460.71 303.96h3.2v3.2h-3.2zM460.69 303.46h3.2v3.2h-3.2zM460.81 304.31h3.2v3.2h-3.2zM460.67 303.71h3.2v3.2h-3.2zM461.36 303.77h3.2v3.2h-3.2zM461.32 304.89h3.2v3.2h-3.2zM461.37 304.87h3.2v3.2h-3.2zM462.01 303.56h3.2v3.2h-3.2zM461.64 303.48h3.2v3.2h-3.2zM462.03 304.31h3.2v3.2h-3.2zM462.17 304.37h3.2v3.2h-3.2zM462.11 304.78h3.2v3.2h-3.2zM462.29 305.38h3.2v3.2h-3.2zM463.08 303.74h3.2v3.2h-3.2zM462.95 303.99h3.2v3.2h-3.2zM462.74 303.4h3.2v3.2h-3.2zM463.4 304.77h3.2v3.2h-3.2zM463.79 304.7h3.2v3.2h-3.2zM463.56 304.5h3.2v3.2h-3.2zM464.13 304.32h3.2v3.2h-3.2zM463.95 304.98h3.2v3.2h-3.2zM464.09 304.47h3.2v3.2h-3.2zM464.21 304.19h3.2v3.2h-3.2zM464.09 304.19h3.2v3.2h-3.2zM464.56 304.19h3.2v3.2h-3.2zM464.86 305.06h3.2v3.2h-3.2zM464.68 305.21h3.2v3.2h-3.2zM464.87 304.84h3.2v3.2h-3.2zM465.15 304.54h3.2v3.2h-3.2zM465.45 305.58h3.2v3.2h-3.2zM465.13 305.46h3.2v3.2h-3.2zM466.16 307.14h3.2v3.2h-3.2zM466.06 305.51h3.2v3.2h-3.2zM466.13 306.16h3.2v3.2h-3.2zM466 305.55h3.2v3.2h-3.2zM466.4 307.75h3.2v3.2h-3.2zM466.51 306.03h3.2v3.2h-3.2zM466.92 303.97h3.2v3.2h-3.2zM467.25 302.61h3.2v3.2h-3.2zM466.86 304.16h3.2v3.2h-3.2zM467.02 304.93h3.2v3.2h-3.2zM467.51 302.79h3.2v3.2h-3.2zM467.15 308.61h3.2v3.2h-3.2zM467.96 302.5h3.2v3.2h-3.2zM467.91 306.48h3.2v3.2h-3.2zM467.59 304.25h3.2v3.2h-3.2zM468.44 308h3.2v3.2h-3.2zM468.21 303.51h3.2v3.2h-3.2zM468.68 306.28h3.2v3.2h-3.2zM468.73 305.97h3.2v3.2h-3.2zM468.54 305.71h3.2v3.2h-3.2zM468.98 307.21h3.2v3.2h-3.2zM469.36 305.42h3.2v3.2h-3.2zM469.73 302.6h3.2v3.2h-3.2zM469.54 303.05h3.2v3.2h-3.2zM469.85 304.64h3.2v3.2h-3.2zM469.57 306.82h3.2v3.2h-3.2zM470.13 306.36h3.2v3.2h-3.2zM470.41 303.98h3.2v3.2h-3.2zM470.08 303.54h3.2v3.2h-3.2zM470.13 306.19h3.2v3.2h-3.2zM470.95 306.81h3.2v3.2h-3.2zM470.8 307.71h3.2v3.2h-3.2zM470.82 303.47h3.2v3.2h-3.2zM471.58 303.39h3.2v3.2h-3.2zM471.59 304.44h3.2v3.2h-3.2zM471.18 302.59h3.2v3.2h-3.2zM471.52 307.07h3.2v3.2h-3.2zM472.16 302.25h3.2v3.2h-3.2zM471.96 303.1h3.2v3.2h-3.2zM472.68 303.43h3.2v3.2h-3.2zM472.34 305.3h3.2v3.2h-3.2zM472.21 305.09h3.2v3.2h-3.2zM472.89 301.88h3.2v3.2h-3.2zM472.51 305.17h3.2v3.2h-3.2zM472.67 303.9h3.2v3.2h-3.2zM473.29 305.51h3.2v3.2h-3.2zM473.06 305.07h3.2v3.2h-3.2zM473.78 305.08h3.2v3.2h-3.2zM473.65 303.63h3.2v3.2h-3.2zM473.94 303.51h3.2v3.2h-3.2zM474.22 305.99h3.2v3.2h-3.2zM474.27 304.39h3.2v3.2h-3.2zM474.2 303.76h3.2v3.2h-3.2zM474.52 303.33h3.2v3.2h-3.2zM474.69 304.72h3.2v3.2h-3.2zM475.17 303.32h3.2v3.2h-3.2zM475.04 304.85h3.2v3.2h-3.2zM475.12 302.65h3.2v3.2h-3.2zM475.5 302.12h3.2v3.2h-3.2zM475.34 301.7h3.2v3.2h-3.2zM475.9 303.41h3.2v3.2h-3.2zM475.9 301.93h3.2v3.2h-3.2zM476.17 301.84h3.2v3.2h-3.2zM476.11 303.28h3.2v3.2h-3.2zM476.14 301.38h3.2v3.2h-3.2zM476.72 302.2h3.2v3.2h-3.2zM476.97 303.84h3.2v3.2h-3.2zM477.05 302.06h3.2v3.2h-3.2zM476.61 301.09h3.2v3.2h-3.2zM477.69 299.6h3.2v3.2h-3.2zM477.51 295.2h3.2v3.2h-3.2zM477.69 290.9h3.2v3.2h-3.2zM477.79 286.5h3.2v3.2h-3.2zM478.73 281.24h3.2v3.2h-3.2zM478.61 282.03h3.2v3.2h-3.2zM478.76 282.17h3.2v3.2h-3.2zM479.07 280.58h3.2v3.2h-3.2zM479.12 281.57h3.2v3.2h-3.2zM479.03 281.01h3.2v3.2h-3.2zM479.52 280.07h3.2v3.2h-3.2zM479.05 281.46h3.2v3.2h-3.2zM479.73 282.47h3.2v3.2h-3.2zM480.01 281.72h3.2v3.2h-3.2zM480.18 281.41h3.2v3.2h-3.2zM479.85 280.42h3.2v3.2h-3.2zM480.17 279.22h3.2v3.2h-3.2zM480.71 281.48h3.2v3.2h-3.2zM480.33 280.25h3.2v3.2h-3.2zM480.8 278.02h3.2v3.2h-3.2zM481.29 278.09h3.2v3.2h-3.2zM481.2 282.19h3.2v3.2h-3.2zM481.41 282.16h3.2v3.2h-3.2zM481.78 282.12h3.2v3.2h-3.2zM481.6 279.68h3.2v3.2h-3.2zM481.96 279.5h3.2v3.2h-3.2zM482.18 282.59h3.2v3.2h-3.2zM481.74 281.18h3.2v3.2h-3.2zM482.67 282.31h3.2v3.2h-3.2zM482.15 281.28h3.2v3.2h-3.2zM482.76 280.81h3.2v3.2h-3.2zM482.65 279.18h3.2v3.2h-3.2zM482.77 282.56h3.2v3.2h-3.2zM482.97 283.89h3.2v3.2h-3.2zM483.21 278.39h3.2v3.2h-3.2zM483.54 284.32h3.2v3.2h-3.2zM483.51 278.13h3.2v3.2h-3.2zM483.8 279.37h3.2v3.2h-3.2zM484.03 280.38h3.2v3.2h-3.2zM484.02 281.44h3.2v3.2h-3.2zM484.6 278.61h3.2v3.2h-3.2zM484.22 280.46h3.2v3.2h-3.2zM484.51 284.93h3.2v3.2h-3.2zM484.92 284.52h3.2v3.2h-3.2zM484.7 279.55h3.2v3.2h-3.2zM484.72 285.63h3.2v3.2h-3.2zM485.25 283.67h3.2v3.2h-3.2zM485.65 277.84h3.2v3.2h-3.2zM485.76 283.48h3.2v3.2h-3.2zM485.65 284.71h3.2v3.2h-3.2zM486.01 284.03h3.2v3.2h-3.2zM486.13 277.55h3.2v3.2h-3.2zM486.11 277.52h3.2v3.2h-3.2zM486.63 283.19h3.2v3.2h-3.2zM486.15 284.21h3.2v3.2h-3.2zM486.77 279.12h3.2v3.2h-3.2zM487.08 281.21h3.2v3.2h-3.2zM487.08 278.77h3.2v3.2h-3.2zM487.61 278.36h3.2v3.2h-3.2zM487.65 281.65h3.2v3.2h-3.2zM487 278.76h3.2v3.2h-3.2zM487.67 278.21h3.2v3.2h-3.2zM487.68 279.41h3.2v3.2h-3.2zM487.54 280.86h3.2v3.2h-3.2zM488.69 282.33h3.2v3.2h-3.2zM488.67 281.27h3.2v3.2h-3.2zM488.13 280.79h3.2v3.2h-3.2zM488.73 277.72h3.2v3.2h-3.2zM488.72 280.74h3.2v3.2h-3.2zM488.65 282.95h3.2v3.2h-3.2zM489.16 277.29h3.2v3.2h-3.2zM489.69 282.68h3.2v3.2h-3.2zM489.02 282.57h3.2v3.2h-3.2zM489.92 278.98h3.2v3.2h-3.2zM489.59 278.86h3.2v3.2h-3.2zM489.53 281.8h3.2v3.2h-3.2zM490.4 277.96h3.2v3.2h-3.2zM490.34 277.94h3.2v3.2h-3.2zM490.43 282.62h3.2v3.2h-3.2zM491.13 279.15h3.2v3.2h-3.2zM490.89 284.58h3.2v3.2h-3.2zM491 280.01h3.2v3.2h-3.2zM491.1 283.08h3.2v3.2h-3.2zM491.08 276.87h3.2v3.2h-3.2zM491.64 283.82h3.2v3.2h-3.2zM491.84 276.92h3.2v3.2h-3.2zM492.19 278.38h3.2v3.2h-3.2zM491.84 283.18h3.2v3.2h-3.2zM492.24 276.93h3.2v3.2h-3.2zM492.28 277.38h3.2v3.2h-3.2zM492.09 280.38h3.2v3.2h-3.2zM492.64 280.87h3.2v3.2h-3.2zM493.13 279.09h3.2v3.2h-3.2zM492.64 279.87h3.2v3.2h-3.2zM493.32 274.01h3.2v3.2h-3.2zM493.69 281.11h3.2v3.2h-3.2zM493.2 283.5h3.2v3.2h-3.2zM493.96 275.43h3.2v3.2h-3.2zM494.23 279.18h3.2v3.2h-3.2zM493.66 276.8h3.2v3.2h-3.2zM494.46 279.51h3.2v3.2h-3.2zM494.11 281.07h3.2v3.2h-3.2zM494.36 279.34h3.2v3.2h-3.2zM495.01 275.6h3.2v3.2h-3.2zM494.91 279.81h3.2v3.2h-3.2zM494.93 276.15h3.2v3.2h-3.2zM495.32 276.74h3.2v3.2h-3.2zM495.48 279.41h3.2v3.2h-3.2zM495.24 276.08h3.2v3.2h-3.2zM495.62 276h3.2v3.2h-3.2zM496.13 278.31h3.2v3.2h-3.2zM496.22 275.93h3.2v3.2h-3.2zM496.77 275.76h3.2v3.2h-3.2zM496.28 276.58h3.2v3.2h-3.2zM496.67 274.91h3.2v3.2h-3.2zM496.66 274.39h3.2v3.2h-3.2zM496.74 273.21h3.2v3.2h-3.2zM496.87 274.41h3.2v3.2h-3.2zM497.39 274.17h3.2v3.2h-3.2zM497.76 276.2h3.2v3.2h-3.2zM497.02 275.97h3.2v3.2h-3.2zM497.61 275.44h3.2v3.2h-3.2zM497.87 275.02h3.2v3.2h-3.2zM497.96 271.91h3.2v3.2h-3.2zM498.26 271.37h3.2v3.2h-3.2zM498.65 272.56h3.2v3.2h-3.2zM498.38 272.65h3.2v3.2h-3.2zM498.86 269.49h3.2v3.2h-3.2zM499.22 269.26h3.2v3.2h-3.2zM498.93 271.75h3.2v3.2h-3.2zM499.12 270.83h3.2v3.2h-3.2zM499.24 272.82h3.2v3.2h-3.2zM499.74 269.74h3.2v3.2h-3.2zM499.65 270.69h3.2v3.2h-3.2zM499.66 271.51h3.2v3.2h-3.2zM499.67 269.32h3.2v3.2h-3.2zM500.19 270.18h3.2v3.2h-3.2zM500.14 270.25h3.2v3.2h-3.2zM500 269.74h3.2v3.2h-3.2zM500.99 270.05h3.2v3.2h-3.2zM500.84 269.74h3.2v3.2h-3.2zM500.63 269.77h3.2v3.2h-3.2zM501.49 268.77h3.2v3.2h-3.2zM501.55 268.46h3.2v3.2h-3.2zM501.62 269.17h3.2v3.2h-3.2zM501.79 267.45h3.2v3.2h-3.2zM501.64 267.95h3.2v3.2h-3.2zM502.18 269.14h3.2v3.2h-3.2zM502.19 267.13h3.2v3.2h-3.2zM502.37 268.07h3.2v3.2h-3.2zM502.69 267.63h3.2v3.2h-3.2zM503.24 264.96h3.2v3.2h-3.2zM503.27 267.47h3.2v3.2h-3.2zM502.72 266.27h3.2v3.2h-3.2zM503.28 268.7h3.2v3.2h-3.2zM503.64 266.38h3.2v3.2h-3.2zM503.19 268.26h3.2v3.2h-3.2zM503.66 265.65h3.2v3.2h-3.2zM503.96 265.36h3.2v3.2h-3.2zM503.85 266.15h3.2v3.2h-3.2zM504.65 264.41h3.2v3.2h-3.2zM504.29 265.7h3.2v3.2h-3.2zM504.68 265.1h3.2v3.2h-3.2zM505.07 263.23h3.2v3.2h-3.2zM504.61 262.33h3.2v3.2h-3.2zM504.78 264.43h3.2v3.2h-3.2zM505.22 265.06h3.2v3.2h-3.2zM505.65 264.2h3.2v3.2h-3.2zM505.44 264.32h3.2v3.2h-3.2zM506.23 265.09h3.2v3.2h-3.2zM505.58 263.8h3.2v3.2h-3.2zM506.07 263.89h3.2v3.2h-3.2zM506.11 264.1h3.2v3.2h-3.2zM506.4 264.42h3.2v3.2h-3.2zM506.72 264.16h3.2v3.2h-3.2zM507.11 265.06h3.2v3.2h-3.2zM507.26 264.12h3.2v3.2h-3.2zM507.13 263.83h3.2v3.2h-3.2zM507.23 267.45h3.2v3.2h-3.2zM507.37 267.6h3.2v3.2h-3.2zM507.7 266.24h3.2v3.2h-3.2zM507.7 269.32h3.2v3.2h-3.2zM507.59 268.84h3.2v3.2h-3.2zM507.74 267.37h3.2v3.2h-3.2zM508.28 271.54h3.2v3.2h-3.2zM508.01 270.57h3.2v3.2h-3.2zM508.19 265.9h3.2v3.2h-3.2zM508.8 271.27h3.2v3.2h-3.2zM509.26 269.19h3.2v3.2h-3.2zM508.58 271.88h3.2v3.2h-3.2zM509.16 267.06h3.2v3.2h-3.2zM509.57 266.74h3.2v3.2h-3.2zM509.56 270.86h3.2v3.2h-3.2zM510.13 267.11h3.2v3.2h-3.2zM510.03 267.07h3.2v3.2h-3.2zM509.62 267.51h3.2v3.2h-3.2zM510 269.23h3.2v3.2h-3.2zM510.44 268.24h3.2v3.2h-3.2zM510.78 267.24h3.2v3.2h-3.2zM511.05 269.32h3.2v3.2h-3.2zM511.17 270.86h3.2v3.2h-3.2zM511.02 268.21h3.2v3.2h-3.2zM511.16 267.03h3.2v3.2h-3.2zM511.02 268.62h3.2v3.2h-3.2zM511.13 268.21h3.2v3.2h-3.2zM512.06 267.49h3.2v3.2h-3.2zM511.77 269.18h3.2v3.2h-3.2zM511.98 266.21h3.2v3.2h-3.2zM512.11 268.9h3.2v3.2h-3.2zM512.33 265.13h3.2v3.2h-3.2zM512.34 268.16h3.2v3.2h-3.2zM512.5 266.17h3.2v3.2h-3.2zM513.14 265.48h3.2v3.2h-3.2zM512.83 267.82h3.2v3.2h-3.2zM513.32 269.67h3.2v3.2h-3.2zM513.24 266.88h3.2v3.2h-3.2zM513.72 266.18h3.2v3.2h-3.2zM514.26 266.64h3.2v3.2h-3.2zM513.51 264.7h3.2v3.2h-3.2zM513.51 266.67h3.2v3.2h-3.2zM514.04 266.5h3.2v3.2h-3.2zM514.08 265.48h3.2v3.2h-3.2zM514.43 267.36h3.2v3.2h-3.2zM515.22 266.61h3.2v3.2h-3.2zM515.03 267.81h3.2v3.2h-3.2zM515.1 264.91h3.2v3.2h-3.2zM515.29 263.22h3.2v3.2h-3.2zM515.13 265.8h3.2v3.2h-3.2zM515.76 262.57h3.2v3.2h-3.2zM515.91 263.7h3.2v3.2h-3.2zM515.87 267.52h3.2v3.2h-3.2zM516.07 264.36h3.2v3.2h-3.2zM516.02 264.82h3.2v3.2h-3.2zM516.78 264.27h3.2v3.2h-3.2zM516.75 266.9h3.2v3.2h-3.2zM517.2 265.5h3.2v3.2h-3.2zM517.21 266.41h3.2v3.2h-3.2zM516.63 264.29h3.2v3.2h-3.2zM517.31 266.54h3.2v3.2h-3.2zM517.6 266.44h3.2v3.2h-3.2zM517.09 264.77h3.2v3.2h-3.2zM517.6 265.42h3.2v3.2h-3.2zM517.99 266.61h3.2v3.2h-3.2zM517.76 263.93h3.2v3.2h-3.2zM518.61 265h3.2v3.2h-3.2zM518.42 263.5h3.2v3.2h-3.2zM518.17 265.81h3.2v3.2h-3.2zM518.69 264.62h3.2v3.2h-3.2zM518.67 264.46h3.2v3.2h-3.2zM519.23 263.17h3.2v3.2h-3.2zM519.63 264.92h3.2v3.2h-3.2zM519.32 266.35h3.2v3.2h-3.2zM519.15 266.2h3.2v3.2h-3.2zM519.83 266.22h3.2v3.2h-3.2zM519.55 265.59h3.2v3.2h-3.2zM519.87 265.01h3.2v3.2h-3.2zM520.45 264.07h3.2v3.2h-3.2zM520.14 264.85h3.2v3.2h-3.2zM520.3 264.71h3.2v3.2h-3.2zM520.76 264.56h3.2v3.2h-3.2zM520.89 264.5h3.2v3.2h-3.2zM520.78 264.49h3.2v3.2h-3.2zM521.59 265.07h3.2v3.2h-3.2zM521.04 265.12h3.2v3.2h-3.2zM521.45 264.8h3.2v3.2h-3.2zM521.92 265.15h3.2v3.2h-3.2zM521.88 264.07h3.2v3.2h-3.2zM522.14 263.57h3.2v3.2h-3.2zM522.21 265.8h3.2v3.2h-3.2zM522.26 265.8h3.2v3.2h-3.2zM522.57 264.23h3.2v3.2h-3.2zM522.6 264.06h3.2v3.2h-3.2zM523 265.67h3.2v3.2h-3.2zM523.11 264.2h3.2v3.2h-3.2zM523.62 264.19h3.2v3.2h-3.2zM523.71 264.31h3.2v3.2h-3.2zM523.25 264.19h3.2v3.2h-3.2zM523.68 264.04h3.2v3.2h-3.2zM523.65 264.91h3.2v3.2h-3.2zM524.29 264.5h3.2v3.2h-3.2zM524.39 264.11h3.2v3.2h-3.2zM524.54 264.19h3.2v3.2h-3.2zM524.54 264.16h3.2v3.2h-3.2zM482.8 275.6h3.2v3.2h-3.2zM531 265h3.2v3.2h-3.2z" fill="#0672c2" clip-path="url(#cc)"/>
<rect x="60" y="63.7" width="20" height="82.7" fill="none" stroke="#ff1a1a" stroke-width="2.3"/>
<rect x="302.1" y="71.9" width="19.8" height="82.4" fill="none" stroke="#ff1a1a" stroke-width="2.3"/>
<rect x="133.4" y="302.5" width="17.2" height="93.8" fill="none" stroke="#ff1a1a" stroke-width="2.3"/>
<rect x="422.5" y="297.1" width="19.6" height="93.9" fill="none" stroke="#ff1a1a" stroke-width="2.3"/>
<text x="66.8" y="75" font-size="9.2" text-anchor="middle" fill="#ff1a1a" stroke="#ff1a1a" stroke-width="0.1" transform="translate(66.8 75) scale(1.0 1.12) translate(-66.8 -75)">1</text>
<text x="311.2" y="84.1" font-size="9.2" text-anchor="middle" fill="#ff1a1a" stroke="#ff1a1a" stroke-width="0.1" transform="translate(311.2 84.1) scale(1.0 1.12) translate(-311.2 -84.1)">2</text>
<text x="100.8" y="275.7" font-size="9.2" text-anchor="middle" fill="#ff1a1a" stroke="#ff1a1a" stroke-width="0.1" transform="translate(100.8 275.7) scale(1.0 1.12) translate(-100.8 -275.7)">1</text>
<text x="392.2" y="277.3" font-size="9.2" text-anchor="middle" fill="#ff1a1a" stroke="#ff1a1a" stroke-width="0.1" transform="translate(392.2 277.3) scale(1.0 1.12) translate(-392.2 -277.3)">2</text>
<text x="30.8" y="11.8" font-size="9.0" text-anchor="end" fill="#262626" stroke="#262626" stroke-width="0.1" transform="translate(30.8 11.8) scale(0.95 1.0) translate(-30.8 -11.8)">2</text>
<text x="30.8" y="55.2" font-size="9.0" text-anchor="end" fill="#262626" stroke="#262626" stroke-width="0.1" transform="translate(30.8 55.2) scale(0.95 1.0) translate(-30.8 -55.2)">1</text>
<text x="30.8" y="99.3" font-size="9.0" text-anchor="end" fill="#262626" stroke="#262626" stroke-width="0.1" transform="translate(30.8 99.3) scale(0.95 1.0) translate(-30.8 -99.3)">0</text>
<text x="30.8" y="143.8" font-size="9.0" text-anchor="end" fill="#262626" stroke="#262626" stroke-width="0.1" transform="translate(30.8 143.8) scale(0.95 1.0) translate(-30.8 -143.8)">-1</text>
<text x="30.8" y="187.5" font-size="9.0" text-anchor="end" fill="#262626" stroke="#262626" stroke-width="0.1" transform="translate(30.8 187.5) scale(0.95 1.0) translate(-30.8 -187.5)">-2</text>
<text x="36.1" y="199.5" font-size="9.0" text-anchor="middle" fill="#262626" stroke="#262626" stroke-width="0.1" transform="translate(36.1 199.5) scale(0.95 1.0) translate(-36.1 -199.5)">0</text>
<text x="203" y="199.5" font-size="9.0" text-anchor="middle" fill="#262626" stroke="#262626" stroke-width="0.1" transform="translate(203 199.5) scale(0.95 1.0) translate(-203 -199.5)">0.5</text>
<text x="372.5" y="199.5" font-size="9.0" text-anchor="middle" fill="#262626" stroke="#262626" stroke-width="0.1" transform="translate(372.5 199.5) scale(0.95 1.0) translate(-372.5 -199.5)">1</text>
<text x="540.5" y="199.5" font-size="9.0" text-anchor="middle" fill="#262626" stroke="#262626" stroke-width="0.1" transform="translate(540.5 199.5) scale(0.95 1.0) translate(-540.5 -199.5)">1.5</text>
<text x="279" y="212.6" font-size="10.2" text-anchor="middle" fill="#262626" stroke="#262626" stroke-width="0.1" textLength="59" lengthAdjust="spacingAndGlyphs">Time/seconds</text>
<text x="289.5" y="229.2" font-size="9.6" text-anchor="middle" fill="#262626" stroke="#262626" stroke-width="0.3" font-weight="bold">(a)</text>
<text x="12.8" y="124.6" font-size="10.2" text-anchor="middle" fill="#262626" stroke="#262626" stroke-width="0.1" textLength="152.3" lengthAdjust="spacingAndGlyphs" transform="rotate(-90 12.8 124.6)">Relative error along the track/pixels</text>
<text x="44.9" y="289.2" font-size="9.0" text-anchor="end" fill="#262626" stroke="#262626" stroke-width="0.1" transform="translate(44.9 289.2) scale(0.95 1.0) translate(-44.9 -289.2)">0.15</text>
<text x="44.9" y="313.33" font-size="9.0" text-anchor="end" fill="#262626" stroke="#262626" stroke-width="0.1" transform="translate(44.9 313.33) scale(0.95 1.0) translate(-44.9 -313.33)">0.1</text>
<text x="44.9" y="337.46" font-size="9.0" text-anchor="end" fill="#262626" stroke="#262626" stroke-width="0.1" transform="translate(44.9 337.46) scale(0.95 1.0) translate(-44.9 -337.46)">0.05</text>
<text x="44.9" y="361.59" font-size="9.0" text-anchor="end" fill="#262626" stroke="#262626" stroke-width="0.1" transform="translate(44.9 361.59) scale(0.95 1.0) translate(-44.9 -361.59)">0</text>
<text x="44.9" y="385.72" font-size="9.0" text-anchor="end" fill="#262626" stroke="#262626" stroke-width="0.1" transform="translate(44.9 385.72) scale(0.95 1.0) translate(-44.9 -385.72)">-0.05</text>
<text x="44.9" y="409.85" font-size="9.0" text-anchor="end" fill="#262626" stroke="#262626" stroke-width="0.1" transform="translate(44.9 409.85) scale(0.95 1.0) translate(-44.9 -409.85)">-0.1</text>
<text x="44.9" y="433.98" font-size="9.0" text-anchor="end" fill="#262626" stroke="#262626" stroke-width="0.1" transform="translate(44.9 433.98) scale(0.95 1.0) translate(-44.9 -433.98)">-0.15</text>
<text x="51.4" y="445.2" font-size="9.0" text-anchor="middle" fill="#262626" stroke="#262626" stroke-width="0.1" transform="translate(51.4 445.2) scale(0.95 1.0) translate(-51.4 -445.2)">0.09</text>
<text x="98.65" y="445.2" font-size="9.0" text-anchor="middle" fill="#262626" stroke="#262626" stroke-width="0.1" transform="translate(98.65 445.2) scale(0.95 1.0) translate(-98.65 -445.2)">0.095</text>
<text x="146.6" y="445.2" font-size="9.0" text-anchor="middle" fill="#262626" stroke="#262626" stroke-width="0.1" transform="translate(146.6 445.2) scale(0.95 1.0) translate(-146.6 -445.2)">0.1</text>
<text x="193.15" y="445.2" font-size="9.0" text-anchor="middle" fill="#262626" stroke="#262626" stroke-width="0.1" transform="translate(193.15 445.2) scale(0.95 1.0) translate(-193.15 -445.2)">0.105</text>
<text x="240.4" y="445.2" font-size="9.0" text-anchor="middle" fill="#262626" stroke="#262626" stroke-width="0.1" transform="translate(240.4 445.2) scale(0.95 1.0) translate(-240.4 -445.2)">0.11</text>
<text x="139.2" y="461.8" font-size="10.2" text-anchor="middle" fill="#262626" stroke="#262626" stroke-width="0.1" textLength="59" lengthAdjust="spacingAndGlyphs">Time/seconds</text>
<text x="150.9" y="477" font-size="9.6" text-anchor="middle" fill="#262626" stroke="#262626" stroke-width="0.3" font-weight="bold">(b)</text>
<text x="13.9" y="373.9" font-size="10.2" text-anchor="middle" fill="#262626" stroke="#262626" stroke-width="0.1" textLength="152.3" lengthAdjust="spacingAndGlyphs" transform="rotate(-90 13.9 373.9)">Relative error along the track/pixels</text>
<text x="334.8" y="266.3" font-size="9.0" text-anchor="end" fill="#262626" stroke="#262626" stroke-width="0.1" transform="translate(334.8 266.3) scale(0.95 1.0) translate(-334.8 -266.3)">-0.3</text>
<text x="334.8" y="294.47" font-size="9.0" text-anchor="end" fill="#262626" stroke="#262626" stroke-width="0.1" transform="translate(334.8 294.47) scale(0.95 1.0) translate(-334.8 -294.47)">-0.35</text>
<text x="334.8" y="322.64" font-size="9.0" text-anchor="end" fill="#262626" stroke="#262626" stroke-width="0.1" transform="translate(334.8 322.64) scale(0.95 1.0) translate(-334.8 -322.64)">-0.4</text>
<text x="334.8" y="350.81" font-size="9.0" text-anchor="end" fill="#262626" stroke="#262626" stroke-width="0.1" transform="translate(334.8 350.81) scale(0.95 1.0) translate(-334.8 -350.81)">-0.45</text>
<text x="334.8" y="378.98" font-size="9.0" text-anchor="end" fill="#262626" stroke="#262626" stroke-width="0.1" transform="translate(334.8 378.98) scale(0.95 1.0) translate(-334.8 -378.98)">-0.5</text>
<text x="334.8" y="407.15" font-size="9.0" text-anchor="end" fill="#262626" stroke="#262626" stroke-width="0.1" transform="translate(334.8 407.15) scale(0.95 1.0) translate(-334.8 -407.15)">-0.55</text>
<text x="334.8" y="435.32" font-size="9.0" text-anchor="end" fill="#262626" stroke="#262626" stroke-width="0.1" transform="translate(334.8 435.32) scale(0.95 1.0) translate(-334.8 -435.32)">-0.6</text>
<text x="341" y="446" font-size="9.0" text-anchor="middle" fill="#262626" stroke="#262626" stroke-width="0.1" transform="translate(341 446) scale(0.95 1.0) translate(-341 -446)">0.81</text>
<text x="390.15" y="446" font-size="9.0" text-anchor="middle" fill="#262626" stroke="#262626" stroke-width="0.1" transform="translate(390.15 446) scale(0.95 1.0) translate(-390.15 -446)">0.815</text>
<text x="439.3" y="446" font-size="9.0" text-anchor="middle" fill="#262626" stroke="#262626" stroke-width="0.1" transform="translate(439.3 446) scale(0.95 1.0) translate(-439.3 -446)">0.82</text>
<text x="488.45" y="446" font-size="9.0" text-anchor="middle" fill="#262626" stroke="#262626" stroke-width="0.1" transform="translate(488.45 446) scale(0.95 1.0) translate(-488.45 -446)">0.825</text>
<text x="537.6" y="446" font-size="9.0" text-anchor="middle" fill="#262626" stroke="#262626" stroke-width="0.1" transform="translate(537.6 446) scale(0.95 1.0) translate(-537.6 -446)">0.83</text>
<text x="432" y="462.7" font-size="10.2" text-anchor="middle" fill="#262626" stroke="#262626" stroke-width="0.1" textLength="59.5" lengthAdjust="spacingAndGlyphs">Time/seconds</text>
<text x="444.2" y="476.3" font-size="9.6" text-anchor="middle" fill="#262626" stroke="#262626" stroke-width="0.3" font-weight="bold">(c)</text>
<text x="303.6" y="375.3" font-size="10.2" text-anchor="middle" fill="#262626" stroke="#262626" stroke-width="0.1" textLength="152.3" lengthAdjust="spacingAndGlyphs" transform="rotate(-90 303.6 375.3)">Relative error along the track/pixels</text>
</svg>
</body></html>
